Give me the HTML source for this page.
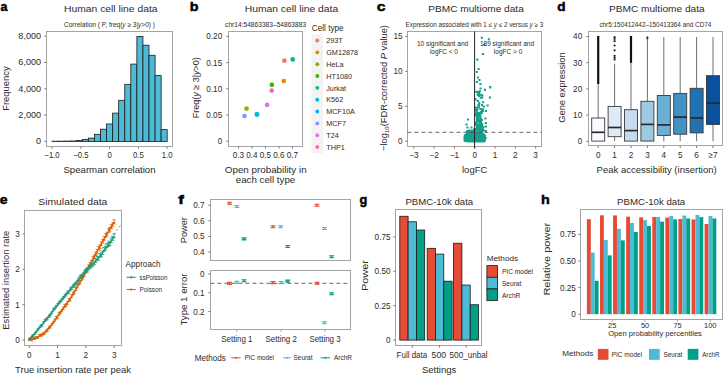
<!DOCTYPE html>
<html><head><meta charset="utf-8"><style>
html,body{margin:0;padding:0;background:#fff;width:723px;height:375px;overflow:hidden}
svg{display:block}
text{font-family:"Liberation Sans",sans-serif}
</style></head><body>
<svg width="723" height="375" viewBox="0 0 723 375">
<rect width="723" height="375" fill="#fff"/>
<text x="0.4" y="10.8" font-size="12.2" font-weight="bold" fill="#000" stroke="#000" stroke-width="0.45" textLength="7.0" lengthAdjust="spacingAndGlyphs">a</text>
<text x="64" y="12.2" font-size="9.5" textLength="93.5" lengthAdjust="spacingAndGlyphs" fill="#2b2b2b">Human cell line data</text>
<text x="64" y="26.8" font-size="6.5" textLength="91" lengthAdjust="spacingAndGlyphs" fill="#2b2b2b">Correlation ( P, freq(<tspan font-style="italic">y</tspan> ≥ 3|<tspan font-style="italic">y</tspan>&gt;0) )</text>
<rect x="52.00" y="141.20" width="6.06" height="0.30" fill="#4DBBD5" stroke="#1a1a1a" stroke-width="0.8"/>
<rect x="58.06" y="141.20" width="6.06" height="0.30" fill="#4DBBD5" stroke="#1a1a1a" stroke-width="0.8"/>
<rect x="64.13" y="141.10" width="6.06" height="0.30" fill="#4DBBD5" stroke="#1a1a1a" stroke-width="0.8"/>
<rect x="70.19" y="141.00" width="6.06" height="0.40" fill="#4DBBD5" stroke="#1a1a1a" stroke-width="0.8"/>
<rect x="76.25" y="140.40" width="6.06" height="1.00" fill="#4DBBD5" stroke="#1a1a1a" stroke-width="0.8"/>
<rect x="82.31" y="139.40" width="6.06" height="2.00" fill="#4DBBD5" stroke="#1a1a1a" stroke-width="0.8"/>
<rect x="88.38" y="138.10" width="6.06" height="3.30" fill="#4DBBD5" stroke="#1a1a1a" stroke-width="0.8"/>
<rect x="94.44" y="134.30" width="6.06" height="7.10" fill="#4DBBD5" stroke="#1a1a1a" stroke-width="0.8"/>
<rect x="100.50" y="129.20" width="6.06" height="12.20" fill="#4DBBD5" stroke="#1a1a1a" stroke-width="0.8"/>
<rect x="106.57" y="124.00" width="6.06" height="17.40" fill="#4DBBD5" stroke="#1a1a1a" stroke-width="0.8"/>
<rect x="112.63" y="113.10" width="6.06" height="28.30" fill="#4DBBD5" stroke="#1a1a1a" stroke-width="0.8"/>
<rect x="118.69" y="100.30" width="6.06" height="41.10" fill="#4DBBD5" stroke="#1a1a1a" stroke-width="0.8"/>
<rect x="124.76" y="84.30" width="6.06" height="57.10" fill="#4DBBD5" stroke="#1a1a1a" stroke-width="0.8"/>
<rect x="130.82" y="64.10" width="6.06" height="77.30" fill="#4DBBD5" stroke="#1a1a1a" stroke-width="0.8"/>
<rect x="136.88" y="36.40" width="6.06" height="105.00" fill="#4DBBD5" stroke="#1a1a1a" stroke-width="0.8"/>
<rect x="142.94" y="45.20" width="6.06" height="96.20" fill="#4DBBD5" stroke="#1a1a1a" stroke-width="0.8"/>
<rect x="149.01" y="55.30" width="6.06" height="86.10" fill="#4DBBD5" stroke="#1a1a1a" stroke-width="0.8"/>
<rect x="155.07" y="75.60" width="6.06" height="65.80" fill="#4DBBD5" stroke="#1a1a1a" stroke-width="0.8"/>
<rect x="161.13" y="129.60" width="6.06" height="11.80" fill="#4DBBD5" stroke="#1a1a1a" stroke-width="0.8"/>
<rect x="46.50" y="31.50" width="126.00" height="115.00" fill="none" stroke="#a5a5a5" stroke-width="1"/>
<line x1="44.30" y1="141.40" x2="46.50" y2="141.40" stroke="#777" stroke-width="1"/>
<text x="41.2" y="144.324" font-size="8.6" text-anchor="end" textLength="5.07" lengthAdjust="spacingAndGlyphs" fill="#2b2b2b">0</text>
<line x1="44.30" y1="115.10" x2="46.50" y2="115.10" stroke="#777" stroke-width="1"/>
<text x="41.2" y="118.024" font-size="8.6" text-anchor="end" textLength="22.81" lengthAdjust="spacingAndGlyphs" fill="#2b2b2b">2,000</text>
<line x1="44.30" y1="88.80" x2="46.50" y2="88.80" stroke="#777" stroke-width="1"/>
<text x="41.2" y="91.724" font-size="8.6" text-anchor="end" textLength="22.81" lengthAdjust="spacingAndGlyphs" fill="#2b2b2b">4,000</text>
<line x1="44.30" y1="62.50" x2="46.50" y2="62.50" stroke="#777" stroke-width="1"/>
<text x="41.2" y="65.424" font-size="8.6" text-anchor="end" textLength="22.81" lengthAdjust="spacingAndGlyphs" fill="#2b2b2b">6,000</text>
<line x1="44.30" y1="36.20" x2="46.50" y2="36.20" stroke="#777" stroke-width="1"/>
<text x="41.2" y="39.124" font-size="8.6" text-anchor="end" textLength="22.81" lengthAdjust="spacingAndGlyphs" fill="#2b2b2b">8,000</text>
<line x1="52.00" y1="146.50" x2="52.00" y2="148.70" stroke="#777" stroke-width="1"/>
<text x="52" y="158.1" font-size="8.6" text-anchor="middle" textLength="15.28" lengthAdjust="spacingAndGlyphs" fill="#2b2b2b">−1.0</text>
<line x1="80.80" y1="146.50" x2="80.80" y2="148.70" stroke="#777" stroke-width="1"/>
<text x="80.8" y="158.1" font-size="8.6" text-anchor="middle" textLength="15.28" lengthAdjust="spacingAndGlyphs" fill="#2b2b2b">−0.5</text>
<line x1="109.60" y1="146.50" x2="109.60" y2="148.70" stroke="#777" stroke-width="1"/>
<text x="109.6" y="158.1" font-size="8.6" text-anchor="middle" textLength="4.3" lengthAdjust="spacingAndGlyphs" fill="#2b2b2b">0</text>
<line x1="138.40" y1="146.50" x2="138.40" y2="148.70" stroke="#777" stroke-width="1"/>
<text x="138.4" y="158.1" font-size="8.6" text-anchor="middle" textLength="10.76" lengthAdjust="spacingAndGlyphs" fill="#2b2b2b">0.5</text>
<line x1="167.20" y1="146.50" x2="167.20" y2="148.70" stroke="#777" stroke-width="1"/>
<text x="167.2" y="158.1" font-size="8.6" text-anchor="middle" textLength="10.76" lengthAdjust="spacingAndGlyphs" fill="#2b2b2b">1.0</text>
<text x="63.4" y="172.9" font-size="9.6" textLength="92.2" lengthAdjust="spacingAndGlyphs" fill="#2b2b2b">Spearman correlation</text>
<text x="0" y="0" font-size="9.5" text-anchor="middle" textLength="44.5" lengthAdjust="spacingAndGlyphs" fill="#2b2b2b" transform="translate(8.82,88.60) rotate(-90)">Frequency</text>
<text x="189.7" y="10.6" font-size="12.2" font-weight="bold" fill="#000" stroke="#000" stroke-width="0.45" textLength="8.8" lengthAdjust="spacingAndGlyphs">b</text>
<text x="244.7" y="12.2" font-size="9.5" textLength="93.5" lengthAdjust="spacingAndGlyphs" fill="#2b2b2b">Human cell line data</text>
<text x="225.1" y="26.8" font-size="6.5" textLength="81" lengthAdjust="spacingAndGlyphs" fill="#2b2b2b">chr14:54863383–54863883</text>
<rect x="228.50" y="31.50" width="74.00" height="115.00" fill="none" stroke="#a5a5a5" stroke-width="1"/>
<line x1="226.30" y1="141.20" x2="228.50" y2="141.20" stroke="#777" stroke-width="1"/>
<text x="222.2" y="144.124" font-size="8.6" text-anchor="end" textLength="4.54" lengthAdjust="spacingAndGlyphs" fill="#2b2b2b">0</text>
<line x1="226.30" y1="115.00" x2="228.50" y2="115.00" stroke="#777" stroke-width="1"/>
<text x="222.2" y="117.924" font-size="8.6" text-anchor="end" textLength="15.9" lengthAdjust="spacingAndGlyphs" fill="#2b2b2b">0.05</text>
<line x1="226.30" y1="88.80" x2="228.50" y2="88.80" stroke="#777" stroke-width="1"/>
<text x="222.2" y="91.724" font-size="8.6" text-anchor="end" textLength="15.9" lengthAdjust="spacingAndGlyphs" fill="#2b2b2b">0.10</text>
<line x1="226.30" y1="62.60" x2="228.50" y2="62.60" stroke="#777" stroke-width="1"/>
<text x="222.2" y="65.524" font-size="8.6" text-anchor="end" textLength="15.9" lengthAdjust="spacingAndGlyphs" fill="#2b2b2b">0.15</text>
<line x1="226.30" y1="36.40" x2="228.50" y2="36.40" stroke="#777" stroke-width="1"/>
<text x="222.2" y="39.324" font-size="8.6" text-anchor="end" textLength="15.9" lengthAdjust="spacingAndGlyphs" fill="#2b2b2b">0.20</text>
<line x1="238.50" y1="146.30" x2="238.50" y2="148.50" stroke="#777" stroke-width="1"/>
<text x="238.5" y="158.1" font-size="8.6" text-anchor="middle" textLength="11.36" lengthAdjust="spacingAndGlyphs" fill="#2b2b2b">0.3</text>
<line x1="252.00" y1="146.30" x2="252.00" y2="148.50" stroke="#777" stroke-width="1"/>
<text x="252" y="158.1" font-size="8.6" text-anchor="middle" textLength="11.36" lengthAdjust="spacingAndGlyphs" fill="#2b2b2b">0.4</text>
<line x1="265.50" y1="146.30" x2="265.50" y2="148.50" stroke="#777" stroke-width="1"/>
<text x="265.5" y="158.1" font-size="8.6" text-anchor="middle" textLength="11.36" lengthAdjust="spacingAndGlyphs" fill="#2b2b2b">0.5</text>
<line x1="279.00" y1="146.30" x2="279.00" y2="148.50" stroke="#777" stroke-width="1"/>
<text x="279" y="158.1" font-size="8.6" text-anchor="middle" textLength="11.36" lengthAdjust="spacingAndGlyphs" fill="#2b2b2b">0.6</text>
<line x1="292.50" y1="146.30" x2="292.50" y2="148.50" stroke="#777" stroke-width="1"/>
<text x="292.5" y="158.1" font-size="8.6" text-anchor="middle" textLength="11.36" lengthAdjust="spacingAndGlyphs" fill="#2b2b2b">0.7</text>
<text x="224.8" y="173.2" font-size="9.6" textLength="81.8" lengthAdjust="spacingAndGlyphs" fill="#2b2b2b">Open probability in</text>
<text x="235.8" y="183.2" font-size="9.6" textLength="59.4" lengthAdjust="spacingAndGlyphs" fill="#2b2b2b">each cell type</text>
<text x="0" y="0" font-size="9.0" text-anchor="middle" textLength="61" lengthAdjust="spacingAndGlyphs" fill="#2b2b2b" transform="translate(198.64,87.70) rotate(-90)">Freq(<tspan font-style="italic">y</tspan> ≥ 3|<tspan font-style="italic">y</tspan>&gt;0)</text>
<circle cx="284.3" cy="60.7" r="2.35" fill="#F8766D"/>
<circle cx="292.7" cy="59.4" r="2.35" fill="#00BF7D"/>
<circle cx="283.8" cy="81" r="2.35" fill="#D89000"/>
<circle cx="271.9" cy="84.8" r="2.35" fill="#39B600"/>
<circle cx="271.7" cy="90.6" r="2.35" fill="#FF62BC"/>
<circle cx="267.1" cy="104.8" r="2.35" fill="#E76BF3"/>
<circle cx="246.6" cy="108.6" r="2.35" fill="#A3A500"/>
<circle cx="257" cy="114.4" r="2.35" fill="#00B0F6"/>
<circle cx="244.5" cy="116" r="2.35" fill="#9590FF"/>
<circle cx="257" cy="114.4" r="2.35" fill="#00BFC4"/>
<text x="311.7" y="30.8" font-size="8.2" textLength="32" lengthAdjust="spacingAndGlyphs" fill="#2b2b2b">Cell type</text>
<rect x="311.50" y="34.30" width="11.50" height="118.90" fill="#f3f3f3"/>
<circle cx="317.3" cy="40.50" r="1.95" fill="#F8766D"/>
<text x="326.2" y="43.2" font-size="7.7" textLength="16.6" lengthAdjust="spacingAndGlyphs" fill="#2b2b2b">293T</text>
<circle cx="317.3" cy="52.34" r="1.95" fill="#D89000"/>
<text x="326.2" y="55.040000000000006" font-size="7.7" textLength="31.99" lengthAdjust="spacingAndGlyphs" fill="#2b2b2b">GM12878</text>
<circle cx="317.3" cy="64.18" r="1.95" fill="#A3A500"/>
<text x="326.2" y="66.88000000000001" font-size="7.7" textLength="17.41" lengthAdjust="spacingAndGlyphs" fill="#2b2b2b">HeLa</text>
<circle cx="317.3" cy="76.02" r="1.95" fill="#39B600"/>
<text x="326.2" y="78.72" font-size="7.7" textLength="25.91" lengthAdjust="spacingAndGlyphs" fill="#2b2b2b">HT1080</text>
<circle cx="317.3" cy="87.86" r="1.95" fill="#00BF7D"/>
<text x="326.2" y="90.56" font-size="7.7" textLength="19.83" lengthAdjust="spacingAndGlyphs" fill="#2b2b2b">Jurkat</text>
<circle cx="317.3" cy="99.70" r="1.95" fill="#00BFC4"/>
<text x="326.2" y="102.4" font-size="7.7" textLength="17.01" lengthAdjust="spacingAndGlyphs" fill="#2b2b2b">K562</text>
<circle cx="317.3" cy="111.54" r="1.95" fill="#00B0F6"/>
<text x="326.2" y="114.24" font-size="7.7" textLength="28.74" lengthAdjust="spacingAndGlyphs" fill="#2b2b2b">MCF10A</text>
<circle cx="317.3" cy="123.38" r="1.95" fill="#9590FF"/>
<text x="326.2" y="126.08" font-size="7.7" textLength="19.83" lengthAdjust="spacingAndGlyphs" fill="#2b2b2b">MCF7</text>
<circle cx="317.3" cy="135.22" r="1.95" fill="#E76BF3"/>
<text x="326.2" y="137.92" font-size="7.7" textLength="12.55" lengthAdjust="spacingAndGlyphs" fill="#2b2b2b">T24</text>
<circle cx="317.3" cy="147.06" r="1.95" fill="#FF62BC"/>
<text x="326.2" y="149.76" font-size="7.7" textLength="18.62" lengthAdjust="spacingAndGlyphs" fill="#2b2b2b">THP1</text>
<text x="376.8" y="10.9" font-size="12.2" font-weight="bold" fill="#000" stroke="#000" stroke-width="0.45" textLength="8.8" lengthAdjust="spacingAndGlyphs">c</text>
<text x="428.3" y="12.2" font-size="9.5" textLength="95.5" lengthAdjust="spacingAndGlyphs" fill="#2b2b2b">PBMC multiome data</text>
<text x="405.6" y="26.8" font-size="6.3" textLength="137.6" lengthAdjust="spacingAndGlyphs" fill="#2b2b2b">Expression associated with 1 ≤ <tspan font-style="italic">y</tspan> ≤ 2 versus <tspan font-style="italic">y</tspan> ≥ 3</text>
<rect x="407.50" y="31.50" width="134.00" height="115.00" fill="none" stroke="#a5a5a5" stroke-width="1"/>
<line x1="405.20" y1="141.20" x2="407.40" y2="141.20" stroke="#777" stroke-width="1"/>
<text x="402.5" y="144.124" font-size="8.6" text-anchor="end" textLength="4.54" lengthAdjust="spacingAndGlyphs" fill="#2b2b2b">0</text>
<line x1="405.20" y1="106.20" x2="407.40" y2="106.20" stroke="#777" stroke-width="1"/>
<text x="402.5" y="109.12400000000001" font-size="8.6" text-anchor="end" textLength="4.54" lengthAdjust="spacingAndGlyphs" fill="#2b2b2b">5</text>
<line x1="405.20" y1="71.30" x2="407.40" y2="71.30" stroke="#777" stroke-width="1"/>
<text x="402.5" y="74.224" font-size="8.6" text-anchor="end" textLength="9.09" lengthAdjust="spacingAndGlyphs" fill="#2b2b2b">10</text>
<line x1="405.20" y1="36.30" x2="407.40" y2="36.30" stroke="#777" stroke-width="1"/>
<text x="402.5" y="39.224" font-size="8.6" text-anchor="end" textLength="9.09" lengthAdjust="spacingAndGlyphs" fill="#2b2b2b">15</text>
<line x1="413.80" y1="146.30" x2="413.80" y2="148.50" stroke="#777" stroke-width="1"/>
<text x="413.8" y="158.1" font-size="8.6" text-anchor="middle" textLength="9.32" lengthAdjust="spacingAndGlyphs" fill="#2b2b2b">−3</text>
<line x1="434.10" y1="146.30" x2="434.10" y2="148.50" stroke="#777" stroke-width="1"/>
<text x="434.1" y="158.1" font-size="8.6" text-anchor="middle" textLength="9.32" lengthAdjust="spacingAndGlyphs" fill="#2b2b2b">−2</text>
<line x1="454.40" y1="146.30" x2="454.40" y2="148.50" stroke="#777" stroke-width="1"/>
<text x="454.40000000000003" y="158.1" font-size="8.6" text-anchor="middle" textLength="9.32" lengthAdjust="spacingAndGlyphs" fill="#2b2b2b">−1</text>
<line x1="474.70" y1="146.30" x2="474.70" y2="148.50" stroke="#777" stroke-width="1"/>
<text x="474.70000000000005" y="158.1" font-size="8.6" text-anchor="middle" textLength="4.54" lengthAdjust="spacingAndGlyphs" fill="#2b2b2b">0</text>
<line x1="495.00" y1="146.30" x2="495.00" y2="148.50" stroke="#777" stroke-width="1"/>
<text x="495.0" y="158.1" font-size="8.6" text-anchor="middle" textLength="4.54" lengthAdjust="spacingAndGlyphs" fill="#2b2b2b">1</text>
<line x1="515.30" y1="146.30" x2="515.30" y2="148.50" stroke="#777" stroke-width="1"/>
<text x="515.3" y="158.1" font-size="8.6" text-anchor="middle" textLength="4.54" lengthAdjust="spacingAndGlyphs" fill="#2b2b2b">2</text>
<line x1="535.60" y1="146.30" x2="535.60" y2="148.50" stroke="#777" stroke-width="1"/>
<text x="535.6" y="158.1" font-size="8.6" text-anchor="middle" textLength="4.54" lengthAdjust="spacingAndGlyphs" fill="#2b2b2b">3</text>
<text x="462.0" y="173.0" font-size="9.6" textLength="25.4" lengthAdjust="spacingAndGlyphs" fill="#2b2b2b">logFC</text>
<text x="0" y="0" font-size="9.3" text-anchor="middle" textLength="126" lengthAdjust="spacingAndGlyphs" fill="#2b2b2b" transform="translate(386.95,88.00) rotate(-90)">−log<tspan font-size="6" dy="2">10</tspan><tspan dy="-2">(FDR-corrected </tspan><tspan font-style="italic">P</tspan> value)</text>
<path fill="#14A08A" d="M470.1 133.9h2.1v2.1h-2.1zM476.9 133.3h2.1v2.1h-2.1zM474.5 135.6h2.1v2.1h-2.1zM464.6 136.9h2.1v2.1h-2.1zM464.2 136.5h2.1v2.1h-2.1zM464.9 134.0h2.1v2.1h-2.1zM472.2 139.1h2.1v2.1h-2.1zM466.0 134.6h2.1v2.1h-2.1zM476.4 140.0h2.1v2.1h-2.1zM475.3 135.8h2.1v2.1h-2.1zM483.6 134.4h2.1v2.1h-2.1zM481.1 135.1h2.1v2.1h-2.1zM466.4 133.8h2.1v2.1h-2.1zM469.8 139.0h2.1v2.1h-2.1zM467.2 137.2h2.1v2.1h-2.1zM476.6 135.6h2.1v2.1h-2.1zM474.7 133.2h2.1v2.1h-2.1zM464.7 134.9h2.1v2.1h-2.1zM477.5 136.0h2.1v2.1h-2.1zM469.9 137.3h2.1v2.1h-2.1zM472.8 135.1h2.1v2.1h-2.1zM479.8 138.1h2.1v2.1h-2.1zM468.5 137.2h2.1v2.1h-2.1zM474.3 139.5h2.1v2.1h-2.1zM478.5 135.0h2.1v2.1h-2.1zM483.6 134.9h2.1v2.1h-2.1zM472.1 138.6h2.1v2.1h-2.1zM466.6 136.6h2.1v2.1h-2.1zM464.3 138.0h2.1v2.1h-2.1zM479.2 137.2h2.1v2.1h-2.1zM481.5 135.3h2.1v2.1h-2.1zM477.8 137.3h2.1v2.1h-2.1zM475.4 136.3h2.1v2.1h-2.1zM480.8 140.0h2.1v2.1h-2.1zM473.2 137.9h2.1v2.1h-2.1zM464.7 138.2h2.1v2.1h-2.1zM476.8 140.4h2.1v2.1h-2.1zM480.4 135.0h2.1v2.1h-2.1zM471.4 137.9h2.1v2.1h-2.1zM463.9 136.8h2.1v2.1h-2.1zM466.9 133.7h2.1v2.1h-2.1zM464.7 138.6h2.1v2.1h-2.1zM466.1 134.8h2.1v2.1h-2.1zM471.5 139.5h2.1v2.1h-2.1zM465.1 136.4h2.1v2.1h-2.1zM474.8 139.6h2.1v2.1h-2.1zM480.3 139.4h2.1v2.1h-2.1zM469.2 135.9h2.1v2.1h-2.1zM470.8 139.6h2.1v2.1h-2.1zM483.2 134.7h2.1v2.1h-2.1zM467.1 134.6h2.1v2.1h-2.1zM468.3 136.5h2.1v2.1h-2.1zM475.6 134.8h2.1v2.1h-2.1zM463.5 136.7h2.1v2.1h-2.1zM471.1 137.1h2.1v2.1h-2.1zM483.1 138.1h2.1v2.1h-2.1zM474.1 137.5h2.1v2.1h-2.1zM477.4 133.2h2.1v2.1h-2.1zM482.0 138.8h2.1v2.1h-2.1zM481.5 138.9h2.1v2.1h-2.1zM471.5 135.8h2.1v2.1h-2.1zM465.6 137.7h2.1v2.1h-2.1zM464.7 133.9h2.1v2.1h-2.1zM467.8 134.0h2.1v2.1h-2.1zM470.5 133.2h2.1v2.1h-2.1zM463.5 135.5h2.1v2.1h-2.1zM465.5 135.7h2.1v2.1h-2.1zM464.0 139.2h2.1v2.1h-2.1zM476.1 133.9h2.1v2.1h-2.1zM468.6 135.4h2.1v2.1h-2.1zM471.0 133.7h2.1v2.1h-2.1zM480.9 140.4h2.1v2.1h-2.1zM473.0 136.5h2.1v2.1h-2.1zM465.2 133.9h2.1v2.1h-2.1zM470.5 134.8h2.1v2.1h-2.1zM480.5 134.0h2.1v2.1h-2.1zM463.9 139.6h2.1v2.1h-2.1zM474.3 133.9h2.1v2.1h-2.1zM474.6 133.0h2.1v2.1h-2.1zM474.3 140.3h2.1v2.1h-2.1zM481.2 138.1h2.1v2.1h-2.1zM468.8 135.6h2.1v2.1h-2.1zM466.9 138.7h2.1v2.1h-2.1zM474.4 138.7h2.1v2.1h-2.1zM470.2 134.5h2.1v2.1h-2.1zM480.2 140.3h2.1v2.1h-2.1zM481.0 139.0h2.1v2.1h-2.1zM480.3 138.5h2.1v2.1h-2.1zM468.1 136.7h2.1v2.1h-2.1zM470.8 133.0h2.1v2.1h-2.1zM464.0 135.7h2.1v2.1h-2.1zM468.8 138.1h2.1v2.1h-2.1zM483.2 136.6h2.1v2.1h-2.1zM482.8 140.1h2.1v2.1h-2.1zM483.1 136.0h2.1v2.1h-2.1zM468.0 134.5h2.1v2.1h-2.1zM467.5 134.4h2.1v2.1h-2.1zM476.3 139.7h2.1v2.1h-2.1zM480.8 136.5h2.1v2.1h-2.1zM476.9 138.9h2.1v2.1h-2.1zM465.2 137.9h2.1v2.1h-2.1zM482.2 138.8h2.1v2.1h-2.1zM478.9 136.4h2.1v2.1h-2.1zM467.1 138.8h2.1v2.1h-2.1zM470.3 138.9h2.1v2.1h-2.1zM483.5 136.4h2.1v2.1h-2.1zM471.7 140.0h2.1v2.1h-2.1zM478.4 134.1h2.1v2.1h-2.1zM466.1 134.1h2.1v2.1h-2.1zM482.1 138.9h2.1v2.1h-2.1zM466.5 139.1h2.1v2.1h-2.1zM483.6 137.9h2.1v2.1h-2.1zM470.7 137.0h2.1v2.1h-2.1zM466.1 133.0h2.1v2.1h-2.1zM483.5 137.9h2.1v2.1h-2.1zM474.3 139.9h2.1v2.1h-2.1zM472.4 139.5h2.1v2.1h-2.1zM480.5 134.4h2.1v2.1h-2.1zM468.6 135.0h2.1v2.1h-2.1zM468.4 137.3h2.1v2.1h-2.1zM468.8 136.0h2.1v2.1h-2.1zM466.2 139.7h2.1v2.1h-2.1zM470.7 136.3h2.1v2.1h-2.1zM475.5 139.7h2.1v2.1h-2.1zM472.1 139.8h2.1v2.1h-2.1zM473.8 136.8h2.1v2.1h-2.1zM474.2 132.9h2.1v2.1h-2.1zM472.5 134.2h2.1v2.1h-2.1zM463.5 138.6h2.1v2.1h-2.1zM467.0 136.4h2.1v2.1h-2.1zM478.4 137.0h2.1v2.1h-2.1zM470.2 136.7h2.1v2.1h-2.1zM474.9 138.8h2.1v2.1h-2.1zM465.6 137.1h2.1v2.1h-2.1zM468.6 134.9h2.1v2.1h-2.1zM479.4 136.7h2.1v2.1h-2.1zM475.0 138.6h2.1v2.1h-2.1zM482.2 136.3h2.1v2.1h-2.1zM476.1 136.6h2.1v2.1h-2.1zM474.0 138.1h2.1v2.1h-2.1zM472.8 136.9h2.1v2.1h-2.1zM473.3 140.0h2.1v2.1h-2.1zM477.9 139.5h2.1v2.1h-2.1zM482.9 135.2h2.1v2.1h-2.1zM475.0 140.0h2.1v2.1h-2.1zM480.8 133.9h2.1v2.1h-2.1zM466.0 136.2h2.1v2.1h-2.1zM464.9 135.0h2.1v2.1h-2.1zM465.0 138.0h2.1v2.1h-2.1zM479.6 139.7h2.1v2.1h-2.1zM466.6 138.3h2.1v2.1h-2.1zM477.1 133.9h2.1v2.1h-2.1zM481.6 140.1h2.1v2.1h-2.1zM468.0 140.1h2.1v2.1h-2.1zM471.7 136.5h2.1v2.1h-2.1zM483.8 138.8h2.1v2.1h-2.1zM466.8 136.1h2.1v2.1h-2.1zM474.1 135.4h2.1v2.1h-2.1zM467.5 135.2h2.1v2.1h-2.1zM478.3 132.9h2.1v2.1h-2.1zM474.9 136.1h2.1v2.1h-2.1zM463.8 136.1h2.1v2.1h-2.1zM476.3 136.7h2.1v2.1h-2.1zM464.8 140.1h2.1v2.1h-2.1zM479.7 140.2h2.1v2.1h-2.1zM465.6 135.0h2.1v2.1h-2.1zM464.3 138.7h2.1v2.1h-2.1zM469.0 133.8h2.1v2.1h-2.1zM472.1 139.8h2.1v2.1h-2.1zM480.3 134.8h2.1v2.1h-2.1zM466.5 139.8h2.1v2.1h-2.1zM475.2 138.1h2.1v2.1h-2.1zM465.3 133.6h2.1v2.1h-2.1zM477.6 136.0h2.1v2.1h-2.1zM464.9 139.8h2.1v2.1h-2.1zM476.5 138.9h2.1v2.1h-2.1zM465.2 139.3h2.1v2.1h-2.1zM464.8 139.3h2.1v2.1h-2.1zM472.8 135.4h2.1v2.1h-2.1zM474.8 139.9h2.1v2.1h-2.1zM469.0 133.7h2.1v2.1h-2.1zM474.3 134.6h2.1v2.1h-2.1zM465.7 134.2h2.1v2.1h-2.1zM464.5 134.9h2.1v2.1h-2.1zM469.9 135.1h2.1v2.1h-2.1zM479.1 135.0h2.1v2.1h-2.1zM473.8 134.1h2.1v2.1h-2.1zM470.6 132.9h2.1v2.1h-2.1zM468.6 132.9h2.1v2.1h-2.1zM478.6 137.0h2.1v2.1h-2.1zM467.4 136.4h2.1v2.1h-2.1zM482.7 134.1h2.1v2.1h-2.1zM480.3 136.1h2.1v2.1h-2.1zM473.6 139.2h2.1v2.1h-2.1zM471.5 136.7h2.1v2.1h-2.1zM477.6 140.3h2.1v2.1h-2.1zM470.5 139.2h2.1v2.1h-2.1zM478.0 137.6h2.1v2.1h-2.1zM471.8 135.4h2.1v2.1h-2.1zM464.6 134.4h2.1v2.1h-2.1zM464.9 138.5h2.1v2.1h-2.1zM468.7 134.0h2.1v2.1h-2.1zM465.2 139.2h2.1v2.1h-2.1zM481.4 137.9h2.1v2.1h-2.1zM469.3 134.6h2.1v2.1h-2.1zM469.5 136.3h2.1v2.1h-2.1zM466.7 136.2h2.1v2.1h-2.1zM468.9 140.2h2.1v2.1h-2.1zM483.5 137.3h2.1v2.1h-2.1zM468.5 140.2h2.1v2.1h-2.1zM469.8 135.5h2.1v2.1h-2.1zM463.5 136.6h2.1v2.1h-2.1zM473.2 136.6h2.1v2.1h-2.1zM467.6 136.7h2.1v2.1h-2.1zM463.6 135.9h2.1v2.1h-2.1zM465.3 136.0h2.1v2.1h-2.1zM464.3 133.9h2.1v2.1h-2.1zM469.7 134.5h2.1v2.1h-2.1zM475.5 136.8h2.1v2.1h-2.1zM478.9 137.8h2.1v2.1h-2.1zM478.2 139.5h2.1v2.1h-2.1zM471.5 135.3h2.1v2.1h-2.1zM483.7 135.1h2.1v2.1h-2.1zM478.4 137.7h2.1v2.1h-2.1zM464.4 139.0h2.1v2.1h-2.1zM481.8 137.6h2.1v2.1h-2.1zM478.6 139.0h2.1v2.1h-2.1zM466.3 136.8h2.1v2.1h-2.1zM473.8 139.2h2.1v2.1h-2.1zM480.0 139.1h2.1v2.1h-2.1zM475.5 139.6h2.1v2.1h-2.1zM477.5 138.1h2.1v2.1h-2.1zM468.2 133.0h2.1v2.1h-2.1zM466.2 135.6h2.1v2.1h-2.1zM465.6 139.2h2.1v2.1h-2.1zM475.0 137.6h2.1v2.1h-2.1zM476.4 138.0h2.1v2.1h-2.1zM473.5 132.8h2.1v2.1h-2.1zM479.9 138.5h2.1v2.1h-2.1zM473.8 136.9h2.1v2.1h-2.1zM477.0 133.3h2.1v2.1h-2.1zM478.6 134.7h2.1v2.1h-2.1zM465.0 135.2h2.1v2.1h-2.1zM478.5 134.3h2.1v2.1h-2.1zM478.7 140.3h2.1v2.1h-2.1zM473.6 135.7h2.1v2.1h-2.1zM473.3 138.0h2.1v2.1h-2.1zM479.2 137.5h2.1v2.1h-2.1zM476.7 133.3h2.1v2.1h-2.1zM466.5 134.8h2.1v2.1h-2.1zM478.8 135.1h2.1v2.1h-2.1zM475.1 132.8h2.1v2.1h-2.1zM464.7 135.3h2.1v2.1h-2.1zM477.3 138.1h2.1v2.1h-2.1zM477.4 135.0h2.1v2.1h-2.1zM474.1 136.3h2.1v2.1h-2.1zM473.1 133.7h2.1v2.1h-2.1zM481.9 134.5h2.1v2.1h-2.1zM483.6 139.5h2.1v2.1h-2.1zM463.8 136.8h2.1v2.1h-2.1zM480.3 140.2h2.1v2.1h-2.1zM472.7 134.8h2.1v2.1h-2.1zM467.8 140.0h2.1v2.1h-2.1zM467.8 137.2h2.1v2.1h-2.1zM466.4 136.8h2.1v2.1h-2.1zM483.1 134.5h2.1v2.1h-2.1zM480.3 136.7h2.1v2.1h-2.1zM481.7 138.2h2.1v2.1h-2.1zM468.2 139.7h2.1v2.1h-2.1zM473.5 132.9h2.1v2.1h-2.1zM463.5 137.1h2.1v2.1h-2.1zM472.7 135.1h2.1v2.1h-2.1zM466.3 135.5h2.1v2.1h-2.1zM470.0 139.2h2.1v2.1h-2.1zM463.5 138.4h2.1v2.1h-2.1zM480.7 133.8h2.1v2.1h-2.1zM482.5 138.3h2.1v2.1h-2.1zM482.0 135.2h2.1v2.1h-2.1zM471.1 135.8h2.1v2.1h-2.1zM484.0 137.6h2.1v2.1h-2.1zM470.9 136.0h2.1v2.1h-2.1zM469.1 133.1h2.1v2.1h-2.1zM465.5 139.2h2.1v2.1h-2.1zM469.3 140.0h2.1v2.1h-2.1zM468.6 134.8h2.1v2.1h-2.1zM474.0 134.2h2.1v2.1h-2.1zM471.1 140.1h2.1v2.1h-2.1zM481.7 139.0h2.1v2.1h-2.1zM476.4 139.8h2.1v2.1h-2.1zM482.8 137.2h2.1v2.1h-2.1zM478.3 133.1h2.1v2.1h-2.1zM478.5 136.2h2.1v2.1h-2.1zM479.0 137.7h2.1v2.1h-2.1zM469.3 133.1h2.1v2.1h-2.1zM482.5 134.2h2.1v2.1h-2.1zM473.2 135.4h2.1v2.1h-2.1zM469.6 138.4h2.1v2.1h-2.1zM483.6 135.6h2.1v2.1h-2.1zM477.0 135.1h2.1v2.1h-2.1zM474.9 135.8h2.1v2.1h-2.1zM466.9 134.1h2.1v2.1h-2.1zM467.7 139.7h2.1v2.1h-2.1zM473.7 134.4h2.1v2.1h-2.1zM482.1 140.3h2.1v2.1h-2.1zM472.7 133.8h2.1v2.1h-2.1zM467.4 133.5h2.1v2.1h-2.1zM470.5 133.5h2.1v2.1h-2.1zM468.4 134.7h2.1v2.1h-2.1zM475.2 139.6h2.1v2.1h-2.1zM478.9 135.9h2.1v2.1h-2.1zM472.0 136.8h2.1v2.1h-2.1zM471.2 135.4h2.1v2.1h-2.1zM464.7 135.3h2.1v2.1h-2.1zM483.4 134.7h2.1v2.1h-2.1zM473.8 137.6h2.1v2.1h-2.1zM481.2 134.5h2.1v2.1h-2.1zM469.0 134.7h2.1v2.1h-2.1zM471.7 136.2h2.1v2.1h-2.1zM483.1 139.1h2.1v2.1h-2.1zM481.4 133.1h2.1v2.1h-2.1zM464.1 138.2h2.1v2.1h-2.1zM481.9 136.5h2.1v2.1h-2.1zM475.5 132.8h2.1v2.1h-2.1zM471.5 139.9h2.1v2.1h-2.1zM480.5 139.3h2.1v2.1h-2.1zM483.5 135.5h2.1v2.1h-2.1zM465.7 134.2h2.1v2.1h-2.1zM474.2 138.0h2.1v2.1h-2.1zM482.8 138.3h2.1v2.1h-2.1zM476.8 138.6h2.1v2.1h-2.1zM472.9 137.0h2.1v2.1h-2.1zM464.3 138.7h2.1v2.1h-2.1zM468.2 139.8h2.1v2.1h-2.1zM476.7 135.1h2.1v2.1h-2.1zM466.1 134.8h2.1v2.1h-2.1zM476.6 138.1h2.1v2.1h-2.1zM465.8 133.5h2.1v2.1h-2.1zM474.3 137.2h2.1v2.1h-2.1zM471.4 134.5h2.1v2.1h-2.1zM475.8 132.8h2.1v2.1h-2.1zM469.7 136.3h2.1v2.1h-2.1zM483.2 137.8h2.1v2.1h-2.1zM481.7 136.5h2.1v2.1h-2.1zM468.3 134.7h2.1v2.1h-2.1zM483.2 138.2h2.1v2.1h-2.1zM469.8 132.9h2.1v2.1h-2.1zM473.7 137.9h2.1v2.1h-2.1zM472.1 134.7h2.1v2.1h-2.1zM477.2 139.9h2.1v2.1h-2.1zM468.1 133.0h2.1v2.1h-2.1zM470.4 136.0h2.1v2.1h-2.1zM477.5 134.3h2.1v2.1h-2.1zM479.9 138.4h2.1v2.1h-2.1zM473.9 134.3h2.1v2.1h-2.1zM483.4 135.8h2.1v2.1h-2.1zM480.3 134.6h2.1v2.1h-2.1zM468.0 138.6h2.1v2.1h-2.1zM469.5 140.1h2.1v2.1h-2.1zM473.7 134.2h2.1v2.1h-2.1zM468.1 136.0h2.1v2.1h-2.1zM477.2 140.1h2.1v2.1h-2.1zM466.5 135.8h2.1v2.1h-2.1zM467.8 140.2h2.1v2.1h-2.1zM466.4 133.3h2.1v2.1h-2.1zM464.7 136.1h2.1v2.1h-2.1zM482.0 139.5h2.1v2.1h-2.1zM478.5 140.4h2.1v2.1h-2.1zM482.6 135.6h2.1v2.1h-2.1zM467.3 140.0h2.1v2.1h-2.1zM478.8 133.0h2.1v2.1h-2.1zM477.1 135.7h2.1v2.1h-2.1zM471.2 135.3h2.1v2.1h-2.1zM466.9 132.8h2.1v2.1h-2.1zM469.2 135.5h2.1v2.1h-2.1zM483.1 134.5h2.1v2.1h-2.1zM483.3 135.1h2.1v2.1h-2.1zM470.8 139.1h2.1v2.1h-2.1zM480.4 136.1h2.1v2.1h-2.1zM464.5 136.7h2.1v2.1h-2.1zM471.1 139.8h2.1v2.1h-2.1zM467.4 135.6h2.1v2.1h-2.1zM481.9 133.3h2.1v2.1h-2.1zM471.9 139.0h2.1v2.1h-2.1zM479.2 133.1h2.1v2.1h-2.1zM464.2 134.3h2.1v2.1h-2.1zM482.4 135.1h2.1v2.1h-2.1zM478.8 139.7h2.1v2.1h-2.1zM470.4 134.8h2.1v2.1h-2.1zM483.2 137.6h2.1v2.1h-2.1zM468.9 138.3h2.1v2.1h-2.1zM470.0 134.9h2.1v2.1h-2.1zM463.5 138.4h2.1v2.1h-2.1zM482.3 137.7h2.1v2.1h-2.1zM482.9 133.7h2.1v2.1h-2.1zM468.3 136.4h2.1v2.1h-2.1zM483.2 139.8h2.1v2.1h-2.1zM471.4 134.7h2.1v2.1h-2.1zM472.3 136.5h2.1v2.1h-2.1zM482.6 134.6h2.1v2.1h-2.1zM480.0 138.4h2.1v2.1h-2.1zM480.4 138.7h2.1v2.1h-2.1zM476.0 135.3h2.1v2.1h-2.1zM470.0 135.5h2.1v2.1h-2.1zM479.6 133.4h2.1v2.1h-2.1zM467.5 138.6h2.1v2.1h-2.1zM468.5 133.3h2.1v2.1h-2.1zM464.1 137.3h2.1v2.1h-2.1zM470.2 140.3h2.1v2.1h-2.1zM481.6 140.3h2.1v2.1h-2.1zM468.9 133.4h2.1v2.1h-2.1zM465.4 136.7h2.1v2.1h-2.1zM478.1 136.2h2.1v2.1h-2.1zM468.3 136.0h2.1v2.1h-2.1zM476.2 137.9h2.1v2.1h-2.1zM478.9 139.3h2.1v2.1h-2.1zM477.1 133.7h2.1v2.1h-2.1zM480.8 135.1h2.1v2.1h-2.1zM475.1 135.6h2.1v2.1h-2.1zM478.7 134.3h2.1v2.1h-2.1zM468.5 134.6h2.1v2.1h-2.1zM466.6 139.6h2.1v2.1h-2.1zM475.4 135.3h2.1v2.1h-2.1zM471.6 140.4h2.1v2.1h-2.1zM473.9 134.5h2.1v2.1h-2.1zM480.1 137.8h2.1v2.1h-2.1zM483.9 135.0h2.1v2.1h-2.1zM473.2 139.1h2.1v2.1h-2.1zM480.8 139.8h2.1v2.1h-2.1zM464.3 135.6h2.1v2.1h-2.1zM465.9 134.4h2.1v2.1h-2.1zM483.5 137.5h2.1v2.1h-2.1zM482.6 135.9h2.1v2.1h-2.1zM481.3 136.3h2.1v2.1h-2.1zM468.8 138.7h2.1v2.1h-2.1zM482.9 134.2h2.1v2.1h-2.1zM475.7 137.5h2.1v2.1h-2.1zM467.9 135.6h2.1v2.1h-2.1zM466.4 134.4h2.1v2.1h-2.1zM468.7 137.4h2.1v2.1h-2.1zM476.9 134.3h2.1v2.1h-2.1zM463.7 136.2h2.1v2.1h-2.1zM477.4 134.2h2.1v2.1h-2.1zM469.9 134.3h2.1v2.1h-2.1zM479.8 137.0h2.1v2.1h-2.1zM464.8 134.1h2.1v2.1h-2.1zM471.6 137.0h2.1v2.1h-2.1zM476.6 133.5h2.1v2.1h-2.1zM466.8 138.1h2.1v2.1h-2.1zM471.9 134.9h2.1v2.1h-2.1zM469.8 140.1h2.1v2.1h-2.1zM469.9 137.1h2.1v2.1h-2.1zM470.8 136.0h2.1v2.1h-2.1zM481.3 140.4h2.1v2.1h-2.1zM470.9 134.3h2.1v2.1h-2.1zM478.4 134.3h2.1v2.1h-2.1zM463.6 139.2h2.1v2.1h-2.1zM472.2 139.1h2.1v2.1h-2.1zM471.8 139.5h2.1v2.1h-2.1zM472.9 134.0h2.1v2.1h-2.1zM463.8 137.3h2.1v2.1h-2.1zM476.6 139.8h2.1v2.1h-2.1zM465.3 137.6h2.1v2.1h-2.1zM471.1 136.6h2.1v2.1h-2.1zM466.5 135.0h2.1v2.1h-2.1zM474.2 139.9h2.1v2.1h-2.1zM465.7 136.6h2.1v2.1h-2.1zM480.0 140.2h2.1v2.1h-2.1zM467.5 133.8h2.1v2.1h-2.1zM482.9 140.0h2.1v2.1h-2.1zM473.4 133.2h2.1v2.1h-2.1zM482.5 136.0h2.1v2.1h-2.1zM482.1 137.6h2.1v2.1h-2.1zM480.4 134.0h2.1v2.1h-2.1zM479.6 134.5h2.1v2.1h-2.1zM471.8 139.3h2.1v2.1h-2.1zM480.5 134.2h2.1v2.1h-2.1zM467.9 135.8h2.1v2.1h-2.1zM474.1 135.7h2.1v2.1h-2.1zM466.0 134.8h2.1v2.1h-2.1zM478.4 139.7h2.1v2.1h-2.1zM464.3 137.3h2.1v2.1h-2.1zM479.1 133.1h2.1v2.1h-2.1zM480.7 133.7h2.1v2.1h-2.1zM475.8 137.0h2.1v2.1h-2.1zM476.4 135.1h2.1v2.1h-2.1zM472.1 137.2h2.1v2.1h-2.1zM472.2 137.8h2.1v2.1h-2.1zM472.7 136.1h2.1v2.1h-2.1zM463.9 137.7h2.1v2.1h-2.1zM473.5 134.6h2.1v2.1h-2.1zM479.2 138.8h2.1v2.1h-2.1zM472.9 134.1h2.1v2.1h-2.1zM473.2 133.6h2.1v2.1h-2.1zM466.1 136.2h2.1v2.1h-2.1zM465.3 136.3h2.1v2.1h-2.1zM474.0 133.1h2.1v2.1h-2.1zM476.6 133.4h2.1v2.1h-2.1zM478.6 138.7h2.1v2.1h-2.1zM474.0 133.2h2.1v2.1h-2.1zM473.8 135.7h2.1v2.1h-2.1zM483.0 134.5h2.1v2.1h-2.1zM481.1 140.4h2.1v2.1h-2.1zM478.5 139.0h2.1v2.1h-2.1zM467.4 140.3h2.1v2.1h-2.1zM473.6 140.1h2.1v2.1h-2.1zM482.3 134.4h2.1v2.1h-2.1zM479.7 139.9h2.1v2.1h-2.1zM464.8 135.8h2.1v2.1h-2.1zM479.0 134.0h2.1v2.1h-2.1zM481.9 135.1h2.1v2.1h-2.1zM480.3 133.9h2.1v2.1h-2.1zM473.8 139.8h2.1v2.1h-2.1zM467.7 134.8h2.1v2.1h-2.1zM473.9 135.2h2.1v2.1h-2.1zM464.2 135.0h2.1v2.1h-2.1zM466.8 139.9h2.1v2.1h-2.1zM477.5 139.6h2.1v2.1h-2.1zM466.9 138.8h2.1v2.1h-2.1zM465.8 136.9h2.1v2.1h-2.1zM476.6 135.5h2.1v2.1h-2.1zM472.1 131.9h2.1v2.1h-2.1zM470.0 133.4h2.1v2.1h-2.1zM466.7 133.9h2.1v2.1h-2.1zM470.4 131.2h2.1v2.1h-2.1zM471.5 130.6h2.1v2.1h-2.1zM472.9 132.0h2.1v2.1h-2.1zM468.5 132.9h2.1v2.1h-2.1zM469.0 130.2h2.1v2.1h-2.1zM471.2 129.7h2.1v2.1h-2.1zM471.7 130.6h2.1v2.1h-2.1zM470.4 133.9h2.1v2.1h-2.1zM470.1 132.4h2.1v2.1h-2.1zM468.1 129.5h2.1v2.1h-2.1zM466.2 130.1h2.1v2.1h-2.1zM470.3 131.4h2.1v2.1h-2.1zM469.5 133.5h2.1v2.1h-2.1zM466.9 130.5h2.1v2.1h-2.1zM470.5 129.6h2.1v2.1h-2.1zM466.0 131.0h2.1v2.1h-2.1zM466.7 131.1h2.1v2.1h-2.1zM467.5 132.1h2.1v2.1h-2.1zM470.1 130.4h2.1v2.1h-2.1zM470.3 131.6h2.1v2.1h-2.1zM466.9 133.7h2.1v2.1h-2.1zM467.7 130.1h2.1v2.1h-2.1zM466.6 132.3h2.1v2.1h-2.1zM472.0 133.0h2.1v2.1h-2.1zM468.8 130.6h2.1v2.1h-2.1zM466.0 132.4h2.1v2.1h-2.1zM469.9 131.0h2.1v2.1h-2.1zM470.5 131.4h2.1v2.1h-2.1zM472.5 132.8h2.1v2.1h-2.1zM467.7 133.5h2.1v2.1h-2.1zM466.3 131.8h2.1v2.1h-2.1zM468.8 130.5h2.1v2.1h-2.1zM466.4 133.0h2.1v2.1h-2.1zM466.0 131.9h2.1v2.1h-2.1zM472.5 130.1h2.1v2.1h-2.1zM467.3 132.2h2.1v2.1h-2.1zM469.5 132.3h2.1v2.1h-2.1zM481.1 129.0h2.1v2.1h-2.1zM476.0 129.8h2.1v2.1h-2.1zM473.4 133.3h2.1v2.1h-2.1zM480.8 132.2h2.1v2.1h-2.1zM473.0 133.0h2.1v2.1h-2.1zM480.4 130.7h2.1v2.1h-2.1zM480.4 130.7h2.1v2.1h-2.1zM475.2 128.6h2.1v2.1h-2.1zM475.3 128.2h2.1v2.1h-2.1zM476.3 132.4h2.1v2.1h-2.1zM479.9 133.0h2.1v2.1h-2.1zM480.1 129.5h2.1v2.1h-2.1zM478.5 130.6h2.1v2.1h-2.1zM480.8 131.1h2.1v2.1h-2.1zM475.6 131.8h2.1v2.1h-2.1zM482.6 129.3h2.1v2.1h-2.1zM481.8 128.0h2.1v2.1h-2.1zM475.6 129.4h2.1v2.1h-2.1zM480.4 133.6h2.1v2.1h-2.1zM480.4 129.9h2.1v2.1h-2.1zM481.8 129.9h2.1v2.1h-2.1zM475.3 133.4h2.1v2.1h-2.1zM479.3 132.1h2.1v2.1h-2.1zM479.6 133.8h2.1v2.1h-2.1zM477.6 133.0h2.1v2.1h-2.1zM479.9 133.1h2.1v2.1h-2.1zM477.3 132.3h2.1v2.1h-2.1zM478.7 129.8h2.1v2.1h-2.1zM475.1 131.7h2.1v2.1h-2.1zM473.7 133.4h2.1v2.1h-2.1zM474.4 128.1h2.1v2.1h-2.1zM474.0 133.5h2.1v2.1h-2.1zM476.4 128.8h2.1v2.1h-2.1zM473.2 128.2h2.1v2.1h-2.1zM479.9 131.8h2.1v2.1h-2.1zM479.9 132.4h2.1v2.1h-2.1zM473.6 131.5h2.1v2.1h-2.1zM476.6 132.9h2.1v2.1h-2.1zM481.1 133.3h2.1v2.1h-2.1zM473.6 133.2h2.1v2.1h-2.1zM482.1 133.6h2.1v2.1h-2.1zM474.0 129.2h2.1v2.1h-2.1zM474.1 128.2h2.1v2.1h-2.1zM481.4 132.8h2.1v2.1h-2.1zM479.3 132.9h2.1v2.1h-2.1zM475.0 123.3h2.1v2.1h-2.1zM476.1 125.6h2.1v2.1h-2.1zM476.0 117.7h2.1v2.1h-2.1zM479.4 117.0h2.1v2.1h-2.1zM477.5 118.6h2.1v2.1h-2.1zM481.0 127.3h2.1v2.1h-2.1zM478.5 112.5h2.1v2.1h-2.1zM479.8 118.2h2.1v2.1h-2.1zM474.9 121.6h2.1v2.1h-2.1zM476.0 126.7h2.1v2.1h-2.1zM480.7 112.0h2.1v2.1h-2.1zM477.9 112.0h2.1v2.1h-2.1zM478.2 120.8h2.1v2.1h-2.1zM480.0 118.2h2.1v2.1h-2.1zM475.8 116.6h2.1v2.1h-2.1zM478.4 124.5h2.1v2.1h-2.1zM479.2 113.9h2.1v2.1h-2.1zM480.8 124.5h2.1v2.1h-2.1zM477.3 123.3h2.1v2.1h-2.1zM475.0 128.0h2.1v2.1h-2.1zM476.8 127.9h2.1v2.1h-2.1zM478.9 128.2h2.1v2.1h-2.1zM477.9 118.8h2.1v2.1h-2.1zM480.0 121.5h2.1v2.1h-2.1zM476.9 125.5h2.1v2.1h-2.1zM479.4 114.7h2.1v2.1h-2.1zM477.9 123.9h2.1v2.1h-2.1zM479.1 125.9h2.1v2.1h-2.1zM475.4 114.2h2.1v2.1h-2.1zM476.4 115.4h2.1v2.1h-2.1zM475.6 124.6h2.1v2.1h-2.1zM476.4 116.4h2.1v2.1h-2.1zM475.8 121.3h2.1v2.1h-2.1zM481.7 129.5h2.1v2.1h-2.1zM476.8 113.8h2.1v2.1h-2.1zM481.8 129.7h2.1v2.1h-2.1zM479.5 125.1h2.1v2.1h-2.1zM475.6 113.9h2.1v2.1h-2.1zM480.8 118.9h2.1v2.1h-2.1zM478.6 124.4h2.1v2.1h-2.1zM479.0 123.3h2.1v2.1h-2.1zM479.9 119.2h2.1v2.1h-2.1zM480.5 128.3h2.1v2.1h-2.1zM476.0 119.5h2.1v2.1h-2.1zM481.0 124.9h2.1v2.1h-2.1zM479.8 127.3h2.1v2.1h-2.1zM479.1 123.5h2.1v2.1h-2.1zM477.0 113.7h2.1v2.1h-2.1zM476.3 126.0h2.1v2.1h-2.1zM477.2 119.6h2.1v2.1h-2.1zM481.1 123.1h2.1v2.1h-2.1zM479.1 115.2h2.1v2.1h-2.1zM482.3 126.0h2.1v2.1h-2.1zM478.0 112.6h2.1v2.1h-2.1zM477.9 114.8h2.1v2.1h-2.1zM476.9 113.8h2.1v2.1h-2.1zM479.3 121.7h2.1v2.1h-2.1zM478.5 126.9h2.1v2.1h-2.1zM479.8 119.3h2.1v2.1h-2.1zM479.9 119.0h2.1v2.1h-2.1zM474.6 114.2h2.1v2.1h-2.1zM477.0 116.9h2.1v2.1h-2.1zM474.6 98.3h2.1v2.1h-2.1zM477.8 105.8h2.1v2.1h-2.1zM477.3 94.1h2.1v2.1h-2.1zM476.2 107.0h2.1v2.1h-2.1zM482.0 101.2h2.1v2.1h-2.1zM476.2 108.6h2.1v2.1h-2.1zM477.6 92.7h2.1v2.1h-2.1zM475.5 107.9h2.1v2.1h-2.1zM480.9 104.1h2.1v2.1h-2.1zM478.2 102.1h2.1v2.1h-2.1zM476.3 113.0h2.1v2.1h-2.1zM477.3 104.2h2.1v2.1h-2.1zM481.0 109.0h2.1v2.1h-2.1zM478.2 94.9h2.1v2.1h-2.1zM478.8 90.3h2.1v2.1h-2.1zM481.1 96.5h2.1v2.1h-2.1zM481.3 94.2h2.1v2.1h-2.1zM477.5 93.8h2.1v2.1h-2.1zM477.9 92.0h2.1v2.1h-2.1zM474.5 106.4h2.1v2.1h-2.1zM476.7 93.6h2.1v2.1h-2.1zM476.9 99.9h2.1v2.1h-2.1zM477.9 104.2h2.1v2.1h-2.1zM479.7 96.7h2.1v2.1h-2.1zM481.9 110.0h2.1v2.1h-2.1zM474.9 109.3h2.1v2.1h-2.1zM481.7 108.1h2.1v2.1h-2.1zM475.6 109.4h2.1v2.1h-2.1zM479.5 87.4h2.1v2.1h-2.1zM474.5 112.6h2.1v2.1h-2.1zM479.7 93.7h2.1v2.1h-2.1zM475.3 90.8h2.1v2.1h-2.1zM476.3 107.9h2.1v2.1h-2.1zM477.2 91.1h2.1v2.1h-2.1zM481.7 108.3h2.1v2.1h-2.1zM475.8 111.0h2.1v2.1h-2.1zM479.3 108.0h2.1v2.1h-2.1zM479.8 111.1h2.1v2.1h-2.1zM480.8 36.7h2.1v2.1h-2.1zM487.8 38.2h2.1v2.1h-2.1zM483.2 43.7h2.1v2.1h-2.1zM481.9 53.0h2.1v2.1h-2.1zM476.3 58.6h2.1v2.1h-2.1zM477.6 67.9h2.1v2.1h-2.1zM475.8 71.0h2.1v2.1h-2.1zM476.9 76.5h2.1v2.1h-2.1zM478.4 79.0h2.1v2.1h-2.1zM475.9 81.0h2.1v2.1h-2.1zM479.4 83.0h2.1v2.1h-2.1zM489.1 86.0h2.1v2.1h-2.1zM489.2 86.5h2.1v2.1h-2.1zM483.9 88.8h2.1v2.1h-2.1zM488.9 96.5h2.1v2.1h-2.1zM486.6 104.5h2.1v2.1h-2.1zM482.9 105.5h2.1v2.1h-2.1zM484.9 110.0h2.1v2.1h-2.1zM466.9 118.5h2.1v2.1h-2.1zM465.4 123.5h2.1v2.1h-2.1zM466.4 126.5h2.1v2.1h-2.1zM470.4 126.5h2.1v2.1h-2.1zM484.4 117.5h2.1v2.1h-2.1zM484.9 122.0h2.1v2.1h-2.1zM484.9 125.5h2.1v2.1h-2.1zM484.6 136.9h2.1v2.1h-2.1zM484.9 129.9h2.1v2.1h-2.1z"/>
<line x1="407.40" y1="132.30" x2="541.80" y2="132.30" stroke="#555" stroke-width="0.9" stroke-dasharray="4,3"/>
<line x1="474.60" y1="31.50" x2="474.60" y2="148.30" stroke="#222" stroke-width="1.0"/>
<text x="442.6" y="46.2" font-size="6.6" text-anchor="middle" textLength="51.3" lengthAdjust="spacingAndGlyphs" fill="#2b2b2b">10 significant and</text>
<text x="443.9" y="53.9" font-size="6.6" text-anchor="middle" textLength="28" lengthAdjust="spacingAndGlyphs" fill="#2b2b2b">logFC &lt; 0</text>
<text x="507.0" y="46.2" font-size="6.6" text-anchor="middle" textLength="54.1" lengthAdjust="spacingAndGlyphs" fill="#2b2b2b">189 significant and</text>
<text x="508.1" y="53.9" font-size="6.6" text-anchor="middle" textLength="28.6" lengthAdjust="spacingAndGlyphs" fill="#2b2b2b">logFC &gt; 0</text>
<text x="557.3" y="10.6" font-size="12.2" font-weight="bold" fill="#000" stroke="#000" stroke-width="0.45" textLength="8.3" lengthAdjust="spacingAndGlyphs">d</text>
<text x="609.0" y="12.2" font-size="9.5" textLength="95.6" lengthAdjust="spacingAndGlyphs" fill="#2b2b2b">PBMC multiome data</text>
<text x="599.4" y="26.6" font-size="6.3" textLength="112" lengthAdjust="spacingAndGlyphs" fill="#2b2b2b">chr5:150412442–150413364 and CD74</text>
<rect x="588.50" y="31.50" width="134.00" height="114.00" fill="none" stroke="#a5a5a5" stroke-width="1"/>
<line x1="586.30" y1="141.30" x2="588.50" y2="141.30" stroke="#777" stroke-width="1"/>
<text x="582.2" y="144.22400000000002" font-size="8.6" text-anchor="end" textLength="4.54" lengthAdjust="spacingAndGlyphs" fill="#2b2b2b">0</text>
<line x1="586.30" y1="115.10" x2="588.50" y2="115.10" stroke="#777" stroke-width="1"/>
<text x="582.2" y="118.024" font-size="8.6" text-anchor="end" textLength="9.09" lengthAdjust="spacingAndGlyphs" fill="#2b2b2b">10</text>
<line x1="586.30" y1="88.90" x2="588.50" y2="88.90" stroke="#777" stroke-width="1"/>
<text x="582.2" y="91.82400000000001" font-size="8.6" text-anchor="end" textLength="9.09" lengthAdjust="spacingAndGlyphs" fill="#2b2b2b">20</text>
<line x1="586.30" y1="62.70" x2="588.50" y2="62.70" stroke="#777" stroke-width="1"/>
<text x="582.2" y="65.62400000000001" font-size="8.6" text-anchor="end" textLength="9.09" lengthAdjust="spacingAndGlyphs" fill="#2b2b2b">30</text>
<line x1="586.30" y1="36.50" x2="588.50" y2="36.50" stroke="#777" stroke-width="1"/>
<text x="582.2" y="39.424" font-size="8.6" text-anchor="end" textLength="9.09" lengthAdjust="spacingAndGlyphs" fill="#2b2b2b">40</text>
<line x1="598.20" y1="145.80" x2="598.20" y2="148.00" stroke="#777" stroke-width="1"/>
<text x="598.2" y="158.0" font-size="8.6" text-anchor="middle" textLength="4.54" lengthAdjust="spacingAndGlyphs" fill="#2b2b2b">0</text>
<line x1="614.60" y1="145.80" x2="614.60" y2="148.00" stroke="#777" stroke-width="1"/>
<text x="614.6" y="158.0" font-size="8.6" text-anchor="middle" textLength="4.54" lengthAdjust="spacingAndGlyphs" fill="#2b2b2b">1</text>
<line x1="631.00" y1="145.80" x2="631.00" y2="148.00" stroke="#777" stroke-width="1"/>
<text x="631.0" y="158.0" font-size="8.6" text-anchor="middle" textLength="4.54" lengthAdjust="spacingAndGlyphs" fill="#2b2b2b">2</text>
<line x1="647.40" y1="145.80" x2="647.40" y2="148.00" stroke="#777" stroke-width="1"/>
<text x="647.4000000000001" y="158.0" font-size="8.6" text-anchor="middle" textLength="4.54" lengthAdjust="spacingAndGlyphs" fill="#2b2b2b">3</text>
<line x1="663.80" y1="145.80" x2="663.80" y2="148.00" stroke="#777" stroke-width="1"/>
<text x="663.8000000000001" y="158.0" font-size="8.6" text-anchor="middle" textLength="4.54" lengthAdjust="spacingAndGlyphs" fill="#2b2b2b">4</text>
<line x1="680.20" y1="145.80" x2="680.20" y2="148.00" stroke="#777" stroke-width="1"/>
<text x="680.2" y="158.0" font-size="8.6" text-anchor="middle" textLength="4.54" lengthAdjust="spacingAndGlyphs" fill="#2b2b2b">5</text>
<line x1="696.60" y1="145.80" x2="696.60" y2="148.00" stroke="#777" stroke-width="1"/>
<text x="696.6" y="158.0" font-size="8.6" text-anchor="middle" textLength="4.54" lengthAdjust="spacingAndGlyphs" fill="#2b2b2b">6</text>
<line x1="713.00" y1="145.80" x2="713.00" y2="148.00" stroke="#777" stroke-width="1"/>
<text x="713.0" y="158.0" font-size="8.6" text-anchor="middle" textLength="9.03" lengthAdjust="spacingAndGlyphs" fill="#2b2b2b">≥7</text>
<text x="596.6" y="173.0" font-size="9.6" textLength="120.1" lengthAdjust="spacingAndGlyphs" fill="#2b2b2b">Peak accessibility (insertion)</text>
<text x="0" y="0" font-size="9.4" text-anchor="middle" textLength="70.4" lengthAdjust="spacingAndGlyphs" fill="#2b2b2b" transform="translate(565.38,87.60) rotate(-90)">Gene expression</text>
<line x1="598.20" y1="84.00" x2="598.20" y2="118.00" stroke="#707070" stroke-width="1.0"/>
<line x1="598.20" y1="141.10" x2="598.20" y2="141.10" stroke="#707070" stroke-width="1.0"/>
<rect x="591.70" y="118.00" width="13.00" height="23.10" fill="#F7FBFF" stroke="#3a3a3a" stroke-width="0.9"/>
<line x1="591.70" y1="132.30" x2="604.70" y2="132.30" stroke="#2a2a2a" stroke-width="1.7"/>
<line x1="614.60" y1="63.60" x2="614.60" y2="106.40" stroke="#707070" stroke-width="1.0"/>
<line x1="614.60" y1="136.70" x2="614.60" y2="141.10" stroke="#707070" stroke-width="1.0"/>
<rect x="608.10" y="106.40" width="13.00" height="30.30" fill="#DEEBF7" stroke="#3a3a3a" stroke-width="0.9"/>
<line x1="608.10" y1="127.50" x2="621.10" y2="127.50" stroke="#2a2a2a" stroke-width="1.7"/>
<line x1="631.00" y1="62.80" x2="631.00" y2="109.70" stroke="#707070" stroke-width="1.0"/>
<line x1="631.00" y1="141.10" x2="631.00" y2="141.10" stroke="#707070" stroke-width="1.0"/>
<rect x="624.50" y="109.70" width="13.00" height="31.40" fill="#C6DBEF" stroke="#3a3a3a" stroke-width="0.9"/>
<line x1="624.50" y1="130.60" x2="637.50" y2="130.60" stroke="#2a2a2a" stroke-width="1.7"/>
<line x1="647.40" y1="37.50" x2="647.40" y2="101.30" stroke="#707070" stroke-width="1.0"/>
<line x1="647.40" y1="141.10" x2="647.40" y2="141.10" stroke="#707070" stroke-width="1.0"/>
<rect x="640.90" y="101.30" width="13.00" height="39.80" fill="#9ECAE1" stroke="#3a3a3a" stroke-width="0.9"/>
<line x1="640.90" y1="124.40" x2="653.90" y2="124.40" stroke="#2a2a2a" stroke-width="1.7"/>
<line x1="663.80" y1="37.00" x2="663.80" y2="95.50" stroke="#707070" stroke-width="1.0"/>
<line x1="663.80" y1="135.40" x2="663.80" y2="141.30" stroke="#707070" stroke-width="1.0"/>
<rect x="657.30" y="95.50" width="13.00" height="39.90" fill="#6BAED6" stroke="#3a3a3a" stroke-width="0.9"/>
<line x1="657.30" y1="124.90" x2="670.30" y2="124.90" stroke="#2a2a2a" stroke-width="1.7"/>
<line x1="680.20" y1="37.00" x2="680.20" y2="93.40" stroke="#707070" stroke-width="1.0"/>
<line x1="680.20" y1="134.20" x2="680.20" y2="141.20" stroke="#707070" stroke-width="1.0"/>
<rect x="673.70" y="93.40" width="13.00" height="40.80" fill="#4292C6" stroke="#3a3a3a" stroke-width="0.9"/>
<line x1="673.70" y1="117.10" x2="686.70" y2="117.10" stroke="#2a2a2a" stroke-width="1.7"/>
<line x1="696.60" y1="37.00" x2="696.60" y2="88.30" stroke="#707070" stroke-width="1.0"/>
<line x1="696.60" y1="132.90" x2="696.60" y2="141.20" stroke="#707070" stroke-width="1.0"/>
<rect x="690.10" y="88.30" width="13.00" height="44.60" fill="#2171B5" stroke="#3a3a3a" stroke-width="0.9"/>
<line x1="690.10" y1="118.00" x2="703.10" y2="118.00" stroke="#2a2a2a" stroke-width="1.7"/>
<line x1="713.00" y1="37.00" x2="713.00" y2="75.70" stroke="#707070" stroke-width="1.0"/>
<line x1="713.00" y1="124.50" x2="713.00" y2="141.30" stroke="#707070" stroke-width="1.0"/>
<rect x="706.50" y="75.70" width="13.00" height="48.80" fill="#08519C" stroke="#3a3a3a" stroke-width="0.9"/>
<line x1="706.50" y1="103.10" x2="719.50" y2="103.10" stroke="#2a2a2a" stroke-width="1.7"/>
<rect x="597.10" y="36.00" width="2.20" height="48.00" fill="#111"/>
<rect x="629.90" y="36.00" width="2.20" height="26.80" fill="#111"/>
<circle cx="614.60" cy="37.2" r="1.1" fill="#222"/>
<circle cx="614.60" cy="39.0" r="1.1" fill="#222"/>
<circle cx="614.60" cy="41.2" r="1.1" fill="#222"/>
<circle cx="614.60" cy="45.5" r="1.1" fill="#222"/>
<circle cx="614.60" cy="50.3" r="1.1" fill="#222"/>
<circle cx="614.60" cy="55.8" r="1.1" fill="#222"/>
<circle cx="614.60" cy="57.6" r="1.1" fill="#222"/>
<circle cx="614.60" cy="59.4" r="1.1" fill="#222"/>
<rect x="646.50" y="36.50" width="1.80" height="2.60" fill="#222"/>
<text x="-0.3" y="203.6" font-size="12.2" font-weight="bold" fill="#000" stroke="#000" stroke-width="0.45" textLength="7.8" lengthAdjust="spacingAndGlyphs">e</text>
<text x="38.3" y="205.1" font-size="9.5" textLength="69" lengthAdjust="spacingAndGlyphs" fill="#2b2b2b">Simulated data</text>
<rect x="24.50" y="210.50" width="97.00" height="135.00" fill="none" stroke="#a5a5a5" stroke-width="1"/>
<line x1="22.60" y1="340.10" x2="24.80" y2="340.10" stroke="#777" stroke-width="1"/>
<text x="19.8" y="343.024" font-size="8.6" text-anchor="end" textLength="4.54" lengthAdjust="spacingAndGlyphs" fill="#2b2b2b">0</text>
<line x1="22.60" y1="304.70" x2="24.80" y2="304.70" stroke="#777" stroke-width="1"/>
<text x="19.8" y="307.624" font-size="8.6" text-anchor="end" textLength="4.54" lengthAdjust="spacingAndGlyphs" fill="#2b2b2b">1</text>
<line x1="22.60" y1="269.30" x2="24.80" y2="269.30" stroke="#777" stroke-width="1"/>
<text x="19.8" y="272.224" font-size="8.6" text-anchor="end" textLength="4.54" lengthAdjust="spacingAndGlyphs" fill="#2b2b2b">2</text>
<line x1="22.60" y1="233.90" x2="24.80" y2="233.90" stroke="#777" stroke-width="1"/>
<text x="19.8" y="236.82400000000004" font-size="8.6" text-anchor="end" textLength="4.54" lengthAdjust="spacingAndGlyphs" fill="#2b2b2b">3</text>
<line x1="29.20" y1="345.80" x2="29.20" y2="348.00" stroke="#777" stroke-width="1"/>
<text x="29.2" y="358.3" font-size="8.6" text-anchor="middle" textLength="4.54" lengthAdjust="spacingAndGlyphs" fill="#2b2b2b">0</text>
<line x1="57.53" y1="345.80" x2="57.53" y2="348.00" stroke="#777" stroke-width="1"/>
<text x="57.53" y="358.3" font-size="8.6" text-anchor="middle" textLength="4.54" lengthAdjust="spacingAndGlyphs" fill="#2b2b2b">1</text>
<line x1="85.86" y1="345.80" x2="85.86" y2="348.00" stroke="#777" stroke-width="1"/>
<text x="85.86" y="358.3" font-size="8.6" text-anchor="middle" textLength="4.54" lengthAdjust="spacingAndGlyphs" fill="#2b2b2b">2</text>
<line x1="114.19" y1="345.80" x2="114.19" y2="348.00" stroke="#777" stroke-width="1"/>
<text x="114.19" y="358.3" font-size="8.6" text-anchor="middle" textLength="4.54" lengthAdjust="spacingAndGlyphs" fill="#2b2b2b">3</text>
<text x="15.1" y="373.1" font-size="9.6" textLength="115.8" lengthAdjust="spacingAndGlyphs" fill="#2b2b2b">True insertion rate per peak</text>
<text x="0" y="0" font-size="9.3" text-anchor="middle" textLength="99" lengthAdjust="spacingAndGlyphs" fill="#2b2b2b" transform="translate(8.65,280.20) rotate(-90)">Estimated insertion rate</text>
<path d="M29.20,340.10 L29.77,339.94 L30.33,339.77 L30.90,339.61 L31.47,339.44 L32.03,339.28 L32.60,339.11 L33.17,338.95 L33.73,338.79 L34.30,338.62 L34.87,338.46 L35.43,338.29 L36.00,338.13 L36.57,337.96 L37.13,337.80 L37.70,337.40 L38.27,336.99 L38.83,336.59 L39.40,336.19 L39.97,335.78 L40.53,335.38 L41.10,334.98 L41.67,334.58 L42.23,334.17 L42.80,333.77 L43.36,333.37 L43.93,332.97 L44.50,332.56 L45.06,332.16 L45.63,331.63 L46.20,330.98 L46.76,330.32 L47.33,329.67 L47.90,329.02 L48.46,328.36 L49.03,327.71 L49.60,327.06 L50.16,326.40 L50.73,325.75 L51.30,325.10 L51.86,324.44 L52.43,323.79 L53.00,323.05 L53.56,322.21 L54.13,321.38 L54.70,320.55 L55.26,319.71 L55.83,318.88 L56.40,318.05 L56.96,317.21 L57.53,316.38 L58.10,315.61 L58.66,314.84 L59.23,314.06 L59.80,313.29 L60.36,312.52 L60.93,311.75 L61.50,310.98 L62.06,310.20 L62.63,309.43 L63.20,308.65 L63.76,307.87 L64.33,307.09 L64.90,306.32 L65.46,305.54 L66.03,304.76 L66.60,303.99 L67.16,303.21 L67.73,302.43 L68.30,301.65 L68.86,300.88 L69.43,300.10 L70.00,299.14 L70.56,298.18 L71.13,297.23 L71.69,296.27 L72.26,295.31 L72.83,294.36 L73.39,293.40 L73.96,292.44 L74.53,291.49 L75.09,290.53 L75.66,289.57 L76.23,288.62 L76.79,287.66 L77.36,286.70 L77.93,285.75 L78.49,284.79 L79.06,283.83 L79.63,282.88 L80.19,281.94 L80.76,281.02 L81.33,280.10 L81.89,279.18 L82.46,278.26 L83.03,277.29 L83.59,276.27 L84.16,275.25 L84.73,274.23 L85.29,273.21 L85.86,272.19 L86.43,271.17 L86.99,270.15 L87.56,269.13 L88.13,268.11 L88.69,267.09 L89.26,266.07 L89.83,265.05 L90.39,263.97 L90.96,262.89 L91.53,261.80 L92.09,260.72 L92.66,259.64 L93.23,258.56 L93.79,257.47 L94.36,256.39 L94.93,255.34 L95.49,254.32 L96.06,253.30 L96.63,252.28 L97.19,251.26 L97.76,250.24 L98.33,249.22 L98.89,248.20 L99.46,247.18 L100.02,246.15 L100.59,245.13 L101.16,244.11 L101.72,243.09 L102.29,242.07 L102.86,241.05 L103.42,240.03 L103.99,239.01 L104.56,238.03 L105.12,237.08 L105.69,236.13 L106.26,235.17 L106.82,234.22 L107.39,233.27 L107.96,232.32 L108.52,231.37 L109.09,230.42 L109.66,229.47 L110.22,228.52 L110.79,227.57 L111.36,226.62 L111.92,225.67 L112.49,224.72 L113.06,223.77 L113.62,222.81 L114.19,221.86" fill="none" stroke="#D95F02" stroke-width="1.5"/>
<path d="M28.10,338.59 h2.20 M28.10,340.39 h2.20 M29.20,338.59 v1.80" stroke="#D95F02" stroke-width="0.8" fill="none"/>
<path d="M29.51,338.05 h2.22 M29.51,339.89 h2.22 M30.62,338.05 v1.84" stroke="#D95F02" stroke-width="0.8" fill="none"/>
<path d="M30.92,338.98 h2.23 M30.92,340.86 h2.23 M32.03,338.98 v1.87" stroke="#D95F02" stroke-width="0.8" fill="none"/>
<path d="M32.32,337.50 h2.25 M32.32,339.41 h2.25 M33.45,337.50 v1.91" stroke="#D95F02" stroke-width="0.8" fill="none"/>
<path d="M33.73,337.42 h2.27 M33.73,339.36 h2.27 M34.87,337.42 v1.95" stroke="#D95F02" stroke-width="0.8" fill="none"/>
<path d="M35.14,336.54 h2.28 M35.14,338.52 h2.28 M36.28,336.54 v1.98" stroke="#D95F02" stroke-width="0.8" fill="none"/>
<path d="M36.55,336.52 h2.30 M36.55,338.54 h2.30 M37.70,336.52 v2.02" stroke="#D95F02" stroke-width="0.8" fill="none"/>
<path d="M37.96,334.55 h2.32 M37.96,336.60 h2.32 M39.12,334.55 v2.06" stroke="#D95F02" stroke-width="0.8" fill="none"/>
<path d="M39.37,334.22 h2.33 M39.37,336.31 h2.33 M40.53,334.22 v2.09" stroke="#D95F02" stroke-width="0.8" fill="none"/>
<path d="M40.77,333.81 h2.35 M40.77,335.94 h2.35 M41.95,333.81 v2.13" stroke="#D95F02" stroke-width="0.8" fill="none"/>
<path d="M42.18,332.85 h2.37 M42.18,335.02 h2.37 M43.36,332.85 v2.17" stroke="#D95F02" stroke-width="0.8" fill="none"/>
<path d="M43.59,332.03 h2.38 M43.59,334.23 h2.38 M44.78,332.03 v2.20" stroke="#D95F02" stroke-width="0.8" fill="none"/>
<path d="M45.00,329.87 h2.40 M45.00,332.11 h2.40 M46.20,329.87 v2.24" stroke="#D95F02" stroke-width="0.8" fill="none"/>
<path d="M46.41,329.14 h2.42 M46.41,331.42 h2.42 M47.61,329.14 v2.28" stroke="#D95F02" stroke-width="0.8" fill="none"/>
<path d="M47.81,326.62 h2.43 M47.81,328.94 h2.43 M49.03,326.62 v2.31" stroke="#D95F02" stroke-width="0.8" fill="none"/>
<path d="M49.22,325.66 h2.45 M49.22,328.01 h2.45 M50.45,325.66 v2.35" stroke="#D95F02" stroke-width="0.8" fill="none"/>
<path d="M50.63,323.27 h2.47 M50.63,325.65 h2.47 M51.86,323.27 v2.39" stroke="#D95F02" stroke-width="0.8" fill="none"/>
<path d="M52.04,321.42 h2.48 M52.04,323.84 h2.48 M53.28,321.42 v2.42" stroke="#D95F02" stroke-width="0.8" fill="none"/>
<path d="M53.45,319.23 h2.50 M53.45,321.69 h2.50 M54.70,319.23 v2.46" stroke="#D95F02" stroke-width="0.8" fill="none"/>
<path d="M54.86,316.45 h2.52 M54.86,318.94 h2.52 M56.11,316.45 v2.50" stroke="#D95F02" stroke-width="0.8" fill="none"/>
<path d="M56.26,316.16 h2.53 M56.26,318.70 h2.53 M57.53,316.16 v2.53" stroke="#D95F02" stroke-width="0.8" fill="none"/>
<path d="M57.67,312.44 h2.55 M57.67,315.01 h2.55 M58.95,312.44 v2.57" stroke="#D95F02" stroke-width="0.8" fill="none"/>
<path d="M59.08,311.28 h2.57 M59.08,313.89 h2.57 M60.36,311.28 v2.61" stroke="#D95F02" stroke-width="0.8" fill="none"/>
<path d="M60.49,309.13 h2.58 M60.49,311.78 h2.58 M61.78,309.13 v2.64" stroke="#D95F02" stroke-width="0.8" fill="none"/>
<path d="M61.90,306.96 h2.60 M61.90,309.64 h2.60 M63.20,306.96 v2.68" stroke="#D95F02" stroke-width="0.8" fill="none"/>
<path d="M63.30,304.62 h2.62 M63.30,307.34 h2.62 M64.61,304.62 v2.72" stroke="#D95F02" stroke-width="0.8" fill="none"/>
<path d="M64.71,303.65 h2.63 M64.71,306.40 h2.63 M66.03,303.65 v2.75" stroke="#D95F02" stroke-width="0.8" fill="none"/>
<path d="M66.12,301.60 h2.65 M66.12,304.39 h2.65 M67.45,301.60 v2.79" stroke="#D95F02" stroke-width="0.8" fill="none"/>
<path d="M67.53,298.48 h2.67 M67.53,301.31 h2.67 M68.86,298.48 v2.83" stroke="#D95F02" stroke-width="0.8" fill="none"/>
<path d="M68.94,298.13 h2.68 M68.94,301.00 h2.68 M70.28,298.13 v2.86" stroke="#D95F02" stroke-width="0.8" fill="none"/>
<path d="M70.34,294.53 h2.70 M70.34,297.43 h2.70 M71.69,294.53 v2.90" stroke="#D95F02" stroke-width="0.8" fill="none"/>
<path d="M71.75,292.12 h2.72 M71.75,295.06 h2.72 M73.11,292.12 v2.94" stroke="#D95F02" stroke-width="0.8" fill="none"/>
<path d="M73.16,291.00 h2.73 M73.16,293.98 h2.73 M74.53,291.00 v2.97" stroke="#D95F02" stroke-width="0.8" fill="none"/>
<path d="M74.57,287.36 h2.75 M74.57,290.37 h2.75 M75.94,287.36 v3.01" stroke="#D95F02" stroke-width="0.8" fill="none"/>
<path d="M75.98,284.79 h2.77 M75.98,287.84 h2.77 M77.36,284.79 v3.05" stroke="#D95F02" stroke-width="0.8" fill="none"/>
<path d="M77.39,281.85 h2.78 M77.39,284.94 h2.78 M78.78,281.85 v3.08" stroke="#D95F02" stroke-width="0.8" fill="none"/>
<path d="M78.79,280.74 h2.80 M78.79,283.86 h2.80 M80.19,280.74 v3.12" stroke="#D95F02" stroke-width="0.8" fill="none"/>
<path d="M80.20,277.04 h2.82 M80.20,280.19 h2.82 M81.61,277.04 v3.16" stroke="#D95F02" stroke-width="0.8" fill="none"/>
<path d="M81.61,275.67 h2.83 M81.61,278.86 h2.83 M83.03,275.67 v3.19" stroke="#D95F02" stroke-width="0.8" fill="none"/>
<path d="M83.02,273.15 h2.85 M83.02,276.38 h2.85 M84.44,273.15 v3.23" stroke="#D95F02" stroke-width="0.8" fill="none"/>
<path d="M84.43,269.71 h2.87 M84.43,272.98 h2.87 M85.86,269.71 v3.27" stroke="#D95F02" stroke-width="0.8" fill="none"/>
<path d="M85.83,268.98 h2.88 M85.83,272.28 h2.88 M87.28,268.98 v3.30" stroke="#D95F02" stroke-width="0.8" fill="none"/>
<path d="M87.24,264.96 h2.90 M87.24,268.30 h2.90 M88.69,264.96 v3.34" stroke="#D95F02" stroke-width="0.8" fill="none"/>
<path d="M88.65,262.56 h2.92 M88.65,265.93 h2.92 M90.11,262.56 v3.38" stroke="#D95F02" stroke-width="0.8" fill="none"/>
<path d="M90.06,260.44 h2.93 M90.06,263.85 h2.93 M91.53,260.44 v3.41" stroke="#D95F02" stroke-width="0.8" fill="none"/>
<path d="M91.47,256.60 h2.95 M91.47,260.05 h2.95 M92.94,256.60 v3.45" stroke="#D95F02" stroke-width="0.8" fill="none"/>
<path d="M92.88,254.93 h2.97 M92.88,258.42 h2.97 M94.36,254.93 v3.49" stroke="#D95F02" stroke-width="0.8" fill="none"/>
<path d="M94.28,252.10 h2.98 M94.28,255.62 h2.98 M95.78,252.10 v3.52" stroke="#D95F02" stroke-width="0.8" fill="none"/>
<path d="M95.69,249.42 h3.00 M95.69,252.98 h3.00 M97.19,249.42 v3.56" stroke="#D95F02" stroke-width="0.8" fill="none"/>
<path d="M97.10,246.33 h3.02 M97.10,249.93 h3.02 M98.61,246.33 v3.60" stroke="#D95F02" stroke-width="0.8" fill="none"/>
<path d="M98.51,244.95 h3.03 M98.51,248.59 h3.03 M100.02,244.95 v3.63" stroke="#D95F02" stroke-width="0.8" fill="none"/>
<path d="M99.92,241.91 h3.05 M99.92,245.58 h3.05 M101.44,241.91 v3.67" stroke="#D95F02" stroke-width="0.8" fill="none"/>
<path d="M101.32,239.36 h3.07 M101.32,243.07 h3.07 M102.86,239.36 v3.71" stroke="#D95F02" stroke-width="0.8" fill="none"/>
<path d="M102.73,236.52 h3.08 M102.73,240.26 h3.08 M104.27,236.52 v3.74" stroke="#D95F02" stroke-width="0.8" fill="none"/>
<path d="M104.14,233.54 h3.10 M104.14,237.32 h3.10 M105.69,233.54 v3.78" stroke="#D95F02" stroke-width="0.8" fill="none"/>
<path d="M105.55,232.28 h3.12 M105.55,236.10 h3.12 M107.11,232.28 v3.82" stroke="#D95F02" stroke-width="0.8" fill="none"/>
<path d="M106.96,228.75 h3.13 M106.96,232.60 h3.13 M108.52,228.75 v3.85" stroke="#D95F02" stroke-width="0.8" fill="none"/>
<path d="M108.37,227.25 h3.15 M108.37,231.14 h3.15 M109.94,227.25 v3.89" stroke="#D95F02" stroke-width="0.8" fill="none"/>
<path d="M109.77,224.65 h3.17 M109.77,228.57 h3.17 M111.36,224.65 v3.93" stroke="#D95F02" stroke-width="0.8" fill="none"/>
<path d="M111.18,222.74 h3.18 M111.18,226.71 h3.18 M112.77,222.74 v3.96" stroke="#D95F02" stroke-width="0.8" fill="none"/>
<path d="M112.59,219.85 h3.20 M112.59,223.85 h3.20 M114.19,219.85 v4.00" stroke="#D95F02" stroke-width="0.8" fill="none"/>
<path d="M29.20,340.10 L29.77,339.42 L30.33,338.74 L30.90,338.06 L31.47,337.38 L32.03,336.70 L32.60,336.02 L33.17,335.34 L33.73,334.66 L34.30,333.98 L34.87,333.30 L35.43,332.62 L36.00,331.94 L36.57,331.26 L37.13,330.58 L37.70,329.90 L38.27,329.23 L38.83,328.55 L39.40,327.87 L39.97,327.19 L40.53,326.51 L41.10,325.83 L41.67,325.15 L42.23,324.47 L42.80,323.79 L43.36,323.11 L43.93,322.38 L44.50,321.66 L45.06,320.93 L45.63,320.21 L46.20,319.48 L46.76,318.76 L47.33,318.03 L47.90,317.31 L48.46,316.58 L49.03,315.86 L49.60,315.13 L50.16,314.40 L50.73,313.68 L51.30,312.95 L51.86,312.23 L52.43,311.50 L53.00,310.78 L53.56,310.05 L54.13,309.33 L54.70,308.60 L55.26,307.89 L55.83,307.20 L56.40,306.51 L56.96,305.82 L57.53,305.13 L58.10,304.44 L58.66,303.75 L59.23,303.06 L59.80,302.37 L60.36,301.67 L60.93,300.98 L61.50,300.29 L62.06,299.60 L62.63,298.91 L63.20,298.22 L63.76,297.53 L64.33,296.84 L64.90,296.15 L65.46,295.45 L66.03,294.76 L66.60,294.07 L67.16,293.39 L67.73,292.71 L68.30,292.04 L68.86,291.36 L69.43,290.69 L70.00,290.01 L70.56,289.34 L71.13,288.66 L71.69,287.99 L72.26,287.31 L72.83,286.64 L73.39,285.96 L73.96,285.29 L74.53,284.61 L75.09,283.94 L75.66,283.26 L76.23,282.59 L76.79,281.91 L77.36,281.24 L77.93,280.56 L78.49,279.89 L79.06,279.21 L79.63,278.55 L80.19,277.88 L80.76,277.21 L81.33,276.55 L81.89,275.88 L82.46,275.21 L83.03,274.55 L83.59,273.88 L84.16,273.21 L84.73,272.55 L85.29,271.88 L85.86,271.22 L86.43,270.55 L86.99,269.88 L87.56,269.22 L88.13,268.55 L88.69,267.88 L89.26,267.38 L89.83,266.87 L90.39,266.37 L90.96,265.86 L91.53,265.36 L92.09,264.85 L92.66,264.34 L93.23,263.84 L93.79,263.33 L94.36,262.83 L94.93,262.21 L95.49,261.48 L96.06,260.75 L96.63,260.02 L97.19,259.29 L97.76,258.57 L98.33,257.84 L98.89,257.11 L99.46,256.38 L100.02,255.65 L100.59,254.92 L101.16,254.19 L101.72,253.46 L102.29,252.73 L102.86,252.01 L103.42,251.28 L103.99,250.55 L104.56,249.80 L105.12,249.03 L105.69,248.26 L106.26,247.49 L106.82,246.72 L107.39,245.96 L107.96,245.19 L108.52,244.42 L109.09,243.65 L109.66,242.88 L110.22,242.11 L110.79,241.34 L111.36,240.58 L111.92,239.81 L112.49,239.04 L113.06,238.27 L113.62,237.50 L114.19,236.73" fill="none" stroke="#1B9E77" stroke-width="1.5"/>
<path d="M28.10,338.19 h2.20 M28.10,339.99 h2.20 M29.20,338.19 v1.80" stroke="#1B9E77" stroke-width="0.8" fill="none"/>
<path d="M29.51,337.15 h2.22 M29.51,338.99 h2.22 M30.62,337.15 v1.84" stroke="#1B9E77" stroke-width="0.8" fill="none"/>
<path d="M30.92,335.14 h2.23 M30.92,337.02 h2.23 M32.03,335.14 v1.87" stroke="#1B9E77" stroke-width="0.8" fill="none"/>
<path d="M32.32,334.41 h2.25 M32.32,336.32 h2.25 M33.45,334.41 v1.91" stroke="#1B9E77" stroke-width="0.8" fill="none"/>
<path d="M33.73,332.72 h2.27 M33.73,334.67 h2.27 M34.87,332.72 v1.95" stroke="#1B9E77" stroke-width="0.8" fill="none"/>
<path d="M35.14,331.04 h2.28 M35.14,333.02 h2.28 M36.28,331.04 v1.98" stroke="#1B9E77" stroke-width="0.8" fill="none"/>
<path d="M36.55,328.71 h2.30 M36.55,330.73 h2.30 M37.70,328.71 v2.02" stroke="#1B9E77" stroke-width="0.8" fill="none"/>
<path d="M37.96,326.89 h2.32 M37.96,328.95 h2.32 M39.12,326.89 v2.06" stroke="#1B9E77" stroke-width="0.8" fill="none"/>
<path d="M39.37,324.86 h2.33 M39.37,326.95 h2.33 M40.53,324.86 v2.09" stroke="#1B9E77" stroke-width="0.8" fill="none"/>
<path d="M40.77,324.72 h2.35 M40.77,326.85 h2.35 M41.95,324.72 v2.13" stroke="#1B9E77" stroke-width="0.8" fill="none"/>
<path d="M42.18,321.55 h2.37 M42.18,323.72 h2.37 M43.36,321.55 v2.17" stroke="#1B9E77" stroke-width="0.8" fill="none"/>
<path d="M43.59,319.37 h2.38 M43.59,321.58 h2.38 M44.78,319.37 v2.20" stroke="#1B9E77" stroke-width="0.8" fill="none"/>
<path d="M45.00,318.27 h2.40 M45.00,320.51 h2.40 M46.20,318.27 v2.24" stroke="#1B9E77" stroke-width="0.8" fill="none"/>
<path d="M46.41,317.49 h2.42 M46.41,319.76 h2.42 M47.61,317.49 v2.28" stroke="#1B9E77" stroke-width="0.8" fill="none"/>
<path d="M47.81,315.12 h2.43 M47.81,317.44 h2.43 M49.03,315.12 v2.31" stroke="#1B9E77" stroke-width="0.8" fill="none"/>
<path d="M49.22,313.92 h2.45 M49.22,316.27 h2.45 M50.45,313.92 v2.35" stroke="#1B9E77" stroke-width="0.8" fill="none"/>
<path d="M50.63,311.69 h2.47 M50.63,314.08 h2.47 M51.86,311.69 v2.39" stroke="#1B9E77" stroke-width="0.8" fill="none"/>
<path d="M52.04,308.31 h2.48 M52.04,310.73 h2.48 M53.28,308.31 v2.42" stroke="#1B9E77" stroke-width="0.8" fill="none"/>
<path d="M53.45,307.14 h2.50 M53.45,309.60 h2.50 M54.70,307.14 v2.46" stroke="#1B9E77" stroke-width="0.8" fill="none"/>
<path d="M54.86,305.27 h2.52 M54.86,307.77 h2.52 M56.11,305.27 v2.50" stroke="#1B9E77" stroke-width="0.8" fill="none"/>
<path d="M56.26,303.25 h2.53 M56.26,305.78 h2.53 M57.53,303.25 v2.53" stroke="#1B9E77" stroke-width="0.8" fill="none"/>
<path d="M57.67,301.25 h2.55 M57.67,303.82 h2.55 M58.95,301.25 v2.57" stroke="#1B9E77" stroke-width="0.8" fill="none"/>
<path d="M59.08,300.13 h2.57 M59.08,302.74 h2.57 M60.36,300.13 v2.61" stroke="#1B9E77" stroke-width="0.8" fill="none"/>
<path d="M60.49,298.38 h2.58 M60.49,301.02 h2.58 M61.78,298.38 v2.64" stroke="#1B9E77" stroke-width="0.8" fill="none"/>
<path d="M61.90,296.61 h2.60 M61.90,299.29 h2.60 M63.20,296.61 v2.68" stroke="#1B9E77" stroke-width="0.8" fill="none"/>
<path d="M63.30,294.72 h2.62 M63.30,297.43 h2.62 M64.61,294.72 v2.72" stroke="#1B9E77" stroke-width="0.8" fill="none"/>
<path d="M64.71,293.18 h2.63 M64.71,295.93 h2.63 M66.03,293.18 v2.75" stroke="#1B9E77" stroke-width="0.8" fill="none"/>
<path d="M66.12,291.27 h2.65 M66.12,294.06 h2.65 M67.45,291.27 v2.79" stroke="#1B9E77" stroke-width="0.8" fill="none"/>
<path d="M67.53,290.56 h2.67 M67.53,293.39 h2.67 M68.86,290.56 v2.83" stroke="#1B9E77" stroke-width="0.8" fill="none"/>
<path d="M68.94,287.89 h2.68 M68.94,290.75 h2.68 M70.28,287.89 v2.86" stroke="#1B9E77" stroke-width="0.8" fill="none"/>
<path d="M70.34,286.63 h2.70 M70.34,289.53 h2.70 M71.69,286.63 v2.90" stroke="#1B9E77" stroke-width="0.8" fill="none"/>
<path d="M71.75,284.27 h2.72 M71.75,287.21 h2.72 M73.11,284.27 v2.94" stroke="#1B9E77" stroke-width="0.8" fill="none"/>
<path d="M73.16,283.97 h2.73 M73.16,286.95 h2.73 M74.53,283.97 v2.97" stroke="#1B9E77" stroke-width="0.8" fill="none"/>
<path d="M74.57,282.10 h2.75 M74.57,285.11 h2.75 M75.94,282.10 v3.01" stroke="#1B9E77" stroke-width="0.8" fill="none"/>
<path d="M75.98,280.70 h2.77 M75.98,283.74 h2.77 M77.36,280.70 v3.05" stroke="#1B9E77" stroke-width="0.8" fill="none"/>
<path d="M77.39,277.42 h2.78 M77.39,280.51 h2.78 M78.78,277.42 v3.08" stroke="#1B9E77" stroke-width="0.8" fill="none"/>
<path d="M78.79,275.44 h2.80 M78.79,278.56 h2.80 M80.19,275.44 v3.12" stroke="#1B9E77" stroke-width="0.8" fill="none"/>
<path d="M80.20,274.30 h2.82 M80.20,277.46 h2.82 M81.61,274.30 v3.16" stroke="#1B9E77" stroke-width="0.8" fill="none"/>
<path d="M81.61,273.23 h2.83 M81.61,276.42 h2.83 M83.03,273.23 v3.19" stroke="#1B9E77" stroke-width="0.8" fill="none"/>
<path d="M83.02,270.58 h2.85 M83.02,273.81 h2.85 M84.44,270.58 v3.23" stroke="#1B9E77" stroke-width="0.8" fill="none"/>
<path d="M84.43,268.97 h2.87 M84.43,272.24 h2.87 M85.86,268.97 v3.27" stroke="#1B9E77" stroke-width="0.8" fill="none"/>
<path d="M85.83,267.77 h2.88 M85.83,271.07 h2.88 M87.28,267.77 v3.30" stroke="#1B9E77" stroke-width="0.8" fill="none"/>
<path d="M87.24,266.73 h2.90 M87.24,270.07 h2.90 M88.69,266.73 v3.34" stroke="#1B9E77" stroke-width="0.8" fill="none"/>
<path d="M88.65,265.35 h2.92 M88.65,268.73 h2.92 M90.11,265.35 v3.38" stroke="#1B9E77" stroke-width="0.8" fill="none"/>
<path d="M90.06,263.81 h2.93 M90.06,267.23 h2.93 M91.53,263.81 v3.41" stroke="#1B9E77" stroke-width="0.8" fill="none"/>
<path d="M91.47,262.75 h2.95 M91.47,266.20 h2.95 M92.94,262.75 v3.45" stroke="#1B9E77" stroke-width="0.8" fill="none"/>
<path d="M92.88,261.23 h2.97 M92.88,264.72 h2.97 M94.36,261.23 v3.49" stroke="#1B9E77" stroke-width="0.8" fill="none"/>
<path d="M94.28,259.05 h2.98 M94.28,262.58 h2.98 M95.78,259.05 v3.52" stroke="#1B9E77" stroke-width="0.8" fill="none"/>
<path d="M95.69,256.59 h3.00 M95.69,260.15 h3.00 M97.19,256.59 v3.56" stroke="#1B9E77" stroke-width="0.8" fill="none"/>
<path d="M97.10,256.62 h3.02 M97.10,260.22 h3.02 M98.61,256.62 v3.60" stroke="#1B9E77" stroke-width="0.8" fill="none"/>
<path d="M98.51,253.69 h3.03 M98.51,257.32 h3.03 M100.02,253.69 v3.63" stroke="#1B9E77" stroke-width="0.8" fill="none"/>
<path d="M99.92,252.97 h3.05 M99.92,256.64 h3.05 M101.44,252.97 v3.67" stroke="#1B9E77" stroke-width="0.8" fill="none"/>
<path d="M101.32,250.96 h3.07 M101.32,254.67 h3.07 M102.86,250.96 v3.71" stroke="#1B9E77" stroke-width="0.8" fill="none"/>
<path d="M102.73,247.65 h3.08 M102.73,251.40 h3.08 M104.27,247.65 v3.74" stroke="#1B9E77" stroke-width="0.8" fill="none"/>
<path d="M104.14,246.21 h3.10 M104.14,249.99 h3.10 M105.69,246.21 v3.78" stroke="#1B9E77" stroke-width="0.8" fill="none"/>
<path d="M105.55,243.54 h3.12 M105.55,247.36 h3.12 M107.11,243.54 v3.82" stroke="#1B9E77" stroke-width="0.8" fill="none"/>
<path d="M106.96,242.61 h3.13 M106.96,246.46 h3.13 M108.52,242.61 v3.85" stroke="#1B9E77" stroke-width="0.8" fill="none"/>
<path d="M108.37,241.58 h3.15 M108.37,245.47 h3.15 M109.94,241.58 v3.89" stroke="#1B9E77" stroke-width="0.8" fill="none"/>
<path d="M109.77,238.85 h3.17 M109.77,242.78 h3.17 M111.36,238.85 v3.93" stroke="#1B9E77" stroke-width="0.8" fill="none"/>
<path d="M111.18,236.48 h3.18 M111.18,240.44 h3.18 M112.77,236.48 v3.96" stroke="#1B9E77" stroke-width="0.8" fill="none"/>
<path d="M112.59,233.80 h3.20 M112.59,237.80 h3.20 M114.19,233.80 v4.00" stroke="#1B9E77" stroke-width="0.8" fill="none"/>
<line x1="29.20" y1="340.10" x2="120.80" y2="225.20" stroke="#666" stroke-width="0.7" stroke-dasharray="2.5,2"/>
<text x="125.6" y="267.2" font-size="8.2" textLength="35" lengthAdjust="spacingAndGlyphs" fill="#2b2b2b">Approach</text>
<line x1="126.60" y1="277.30" x2="135.60" y2="277.30" stroke="#1B9E77" stroke-width="1.1"/>
<circle cx="131.1" cy="277.3" r="1.1" fill="#1B9E77"/>
<text x="139.6" y="279.8" font-size="7.1" textLength="27.8" lengthAdjust="spacingAndGlyphs" fill="#2b2b2b">ssPoisson</text>
<line x1="126.60" y1="289.50" x2="135.60" y2="289.50" stroke="#D95F02" stroke-width="1.1"/>
<circle cx="131.1" cy="289.5" r="1.1" fill="#D95F02"/>
<text x="139.6" y="292.0" font-size="7.1" textLength="22.4" lengthAdjust="spacingAndGlyphs" fill="#2b2b2b">Poisson</text>
<text x="178.3" y="203.6" font-size="12.2" font-weight="bold" fill="#000" stroke="#000" stroke-width="0.45" textLength="5.6" lengthAdjust="spacingAndGlyphs">f</text>
<rect x="210.50" y="199.50" width="140.00" height="61.00" fill="none" stroke="#a5a5a5" stroke-width="1"/>
<line x1="208.30" y1="205.20" x2="210.50" y2="205.20" stroke="#777" stroke-width="1"/>
<text x="204.6" y="208.124" font-size="8.6" text-anchor="end" textLength="11.36" lengthAdjust="spacingAndGlyphs" fill="#2b2b2b">0.7</text>
<line x1="208.30" y1="220.83" x2="210.50" y2="220.83" stroke="#777" stroke-width="1"/>
<text x="204.6" y="223.754" font-size="8.6" text-anchor="end" textLength="11.36" lengthAdjust="spacingAndGlyphs" fill="#2b2b2b">0.6</text>
<line x1="208.30" y1="236.46" x2="210.50" y2="236.46" stroke="#777" stroke-width="1"/>
<text x="204.6" y="239.384" font-size="8.6" text-anchor="end" textLength="11.36" lengthAdjust="spacingAndGlyphs" fill="#2b2b2b">0.5</text>
<line x1="208.30" y1="252.09" x2="210.50" y2="252.09" stroke="#777" stroke-width="1"/>
<text x="204.6" y="255.01399999999998" font-size="8.6" text-anchor="end" textLength="11.36" lengthAdjust="spacingAndGlyphs" fill="#2b2b2b">0.4</text>
<rect x="210.50" y="270.50" width="140.00" height="59.00" fill="none" stroke="#a5a5a5" stroke-width="1"/>
<line x1="208.30" y1="273.90" x2="210.50" y2="273.90" stroke="#777" stroke-width="1"/>
<text x="204.6" y="276.82399999999996" font-size="8.6" text-anchor="end" textLength="4.54" lengthAdjust="spacingAndGlyphs" fill="#2b2b2b">0</text>
<line x1="208.30" y1="292.75" x2="210.50" y2="292.75" stroke="#777" stroke-width="1"/>
<text x="204.6" y="295.674" font-size="8.6" text-anchor="end" textLength="11.36" lengthAdjust="spacingAndGlyphs" fill="#2b2b2b">0.1</text>
<line x1="208.30" y1="311.60" x2="210.50" y2="311.60" stroke="#777" stroke-width="1"/>
<text x="204.6" y="314.52399999999994" font-size="8.6" text-anchor="end" textLength="11.36" lengthAdjust="spacingAndGlyphs" fill="#2b2b2b">0.2</text>
<line x1="210.40" y1="283.30" x2="350.60" y2="283.30" stroke="#555" stroke-width="0.9" stroke-dasharray="4,3"/>
<line x1="236.90" y1="329.20" x2="236.90" y2="331.80" stroke="#a5a5a5" stroke-width="1"/>
<line x1="281.20" y1="329.20" x2="281.20" y2="331.80" stroke="#a5a5a5" stroke-width="1"/>
<line x1="325.00" y1="329.20" x2="325.00" y2="331.80" stroke="#a5a5a5" stroke-width="1"/>
<text x="236.9" y="342.4" font-size="8.7" text-anchor="middle" textLength="31.2" lengthAdjust="spacingAndGlyphs" fill="#2b2b2b">Setting 1</text>
<text x="281.2" y="342.4" font-size="8.7" text-anchor="middle" textLength="31.2" lengthAdjust="spacingAndGlyphs" fill="#2b2b2b">Setting 2</text>
<text x="325.0" y="342.4" font-size="8.7" text-anchor="middle" textLength="31.2" lengthAdjust="spacingAndGlyphs" fill="#2b2b2b">Setting 3</text>
<text x="0" y="0" font-size="9.0" text-anchor="middle" textLength="26" lengthAdjust="spacingAndGlyphs" fill="#2b2b2b" transform="translate(187.24,230.20) rotate(-90)">Power</text>
<text x="0" y="0" font-size="9.0" text-anchor="middle" textLength="52" lengthAdjust="spacingAndGlyphs" fill="#2b2b2b" transform="translate(187.24,299.50) rotate(-90)">Type 1 error</text>
<path d="M227.00,202.30 h5 M227.00,204.30 h5" stroke="#E64B35" stroke-width="1.1"/>
<path d="M227.70,202.30 L231.30,202.30 L230.00,203.30 L231.30,204.30 L227.70,204.30 L229.00,203.30 Z" fill="#E64B35"/>
<path d="M234.30,205.50 h5 M234.30,207.50 h5" stroke="#4DBBD5" stroke-width="1.1"/>
<path d="M235.00,205.50 L238.60,205.50 L237.30,206.50 L238.60,207.50 L235.00,207.50 L236.30,206.50 Z" fill="#4DBBD5"/>
<path d="M241.60,237.90 h5 M241.60,239.90 h5" stroke="#00A087" stroke-width="1.1"/>
<path d="M242.30,237.90 L245.90,237.90 L244.60,238.90 L245.90,239.90 L242.30,239.90 L243.60,238.90 Z" fill="#00A087"/>
<path d="M270.50,225.80 h5 M270.50,227.80 h5" stroke="#E64B35" stroke-width="1.1"/>
<path d="M271.20,225.80 L274.80,225.80 L273.50,226.80 L274.80,227.80 L271.20,227.80 L272.50,226.80 Z" fill="#E64B35"/>
<path d="M278.10,225.80 h5 M278.10,227.80 h5" stroke="#4DBBD5" stroke-width="1.1"/>
<path d="M278.80,225.80 L282.40,225.80 L281.10,226.80 L282.40,227.80 L278.80,227.80 L280.10,226.80 Z" fill="#4DBBD5"/>
<path d="M285.20,245.50 h5 M285.20,247.50 h5" stroke="#00A087" stroke-width="1.1"/>
<path d="M285.90,245.50 L289.50,245.50 L288.20,246.50 L289.50,247.50 L285.90,247.50 L287.20,246.50 Z" fill="#00A087"/>
<path d="M314.40,204.20 h5 M314.40,206.20 h5" stroke="#E64B35" stroke-width="1.1"/>
<path d="M315.10,204.20 L318.70,204.20 L317.40,205.20 L318.70,206.20 L315.10,206.20 L316.40,205.20 Z" fill="#E64B35"/>
<path d="M322.00,227.50 h5 M322.00,229.50 h5" stroke="#4DBBD5" stroke-width="1.1"/>
<path d="M322.70,227.50 L326.30,227.50 L325.00,228.50 L326.30,229.50 L322.70,229.50 L324.00,228.50 Z" fill="#4DBBD5"/>
<path d="M329.10,255.70 h5 M329.10,257.70 h5" stroke="#00A087" stroke-width="1.1"/>
<path d="M329.80,255.70 L333.40,255.70 L332.10,256.70 L333.40,257.70 L329.80,257.70 L331.10,256.70 Z" fill="#00A087"/>
<path d="M227.00,282.40 h5 M227.00,284.40 h5" stroke="#E64B35" stroke-width="1.1"/>
<path d="M227.70,282.40 L231.30,282.40 L230.00,283.40 L231.30,284.40 L227.70,284.40 L229.00,283.40 Z" fill="#E64B35"/>
<path d="M234.30,281.30 h5 M234.30,283.30 h5" stroke="#4DBBD5" stroke-width="1.1"/>
<path d="M235.00,281.30 L238.60,281.30 L237.30,282.30 L238.60,283.30 L235.00,283.30 L236.30,282.30 Z" fill="#4DBBD5"/>
<path d="M241.60,279.70 h5 M241.60,281.70 h5" stroke="#00A087" stroke-width="1.1"/>
<path d="M242.30,279.70 L245.90,279.70 L244.60,280.70 L245.90,281.70 L242.30,281.70 L243.60,280.70 Z" fill="#00A087"/>
<path d="M270.40,281.60 h5 M270.40,283.60 h5" stroke="#E64B35" stroke-width="1.1"/>
<path d="M271.10,281.60 L274.70,281.60 L273.40,282.60 L274.70,283.60 L271.10,283.60 L272.40,282.60 Z" fill="#E64B35"/>
<path d="M278.60,281.60 h5 M278.60,283.60 h5" stroke="#4DBBD5" stroke-width="1.1"/>
<path d="M279.30,281.60 L282.90,281.60 L281.60,282.60 L282.90,283.60 L279.30,283.60 L280.60,282.60 Z" fill="#4DBBD5"/>
<path d="M285.10,280.10 h5 M285.10,282.10 h5" stroke="#00A087" stroke-width="1.1"/>
<path d="M285.80,280.10 L289.40,280.10 L288.10,281.10 L289.40,282.10 L285.80,282.10 L287.10,281.10 Z" fill="#00A087"/>
<path d="M314.40,282.20 h5 M314.40,284.20 h5" stroke="#E64B35" stroke-width="1.1"/>
<path d="M315.10,282.20 L318.70,282.20 L317.40,283.20 L318.70,284.20 L315.10,284.20 L316.40,283.20 Z" fill="#E64B35"/>
<path d="M321.90,321.80 h5 M321.90,323.80 h5" stroke="#4DBBD5" stroke-width="1.1"/>
<path d="M322.60,321.80 L326.20,321.80 L324.90,322.80 L326.20,323.80 L322.60,323.80 L323.90,322.80 Z" fill="#4DBBD5"/>
<path d="M329.10,292.70 h5 M329.10,294.70 h5" stroke="#00A087" stroke-width="1.1"/>
<path d="M329.80,292.70 L333.40,292.70 L332.10,293.70 L333.40,294.70 L329.80,294.70 L331.10,293.70 Z" fill="#00A087"/>
<text x="194.7" y="360.9" font-size="8.3" textLength="31" lengthAdjust="spacingAndGlyphs" fill="#2b2b2b">Methods</text>
<line x1="231.30" y1="357.80" x2="240.60" y2="357.80" stroke="#E64B35" stroke-width="1.0"/>
<circle cx="235.95" cy="357.8" r="1.0" fill="#E64B35"/>
<text x="244.7" y="360.4" font-size="6.8" textLength="29.3" lengthAdjust="spacingAndGlyphs" fill="#2b2b2b">PIC model</text>
<line x1="283.20" y1="357.80" x2="291.10" y2="357.80" stroke="#4DBBD5" stroke-width="1.0"/>
<circle cx="287.15" cy="357.8" r="1.0" fill="#4DBBD5"/>
<text x="293.5" y="360.4" font-size="6.8" textLength="19" lengthAdjust="spacingAndGlyphs" fill="#2b2b2b">Seurat</text>
<line x1="320.70" y1="357.80" x2="330.10" y2="357.80" stroke="#00A087" stroke-width="1.0"/>
<circle cx="325.40" cy="357.8" r="1.0" fill="#00A087"/>
<text x="333.9" y="360.4" font-size="6.8" textLength="18.2" lengthAdjust="spacingAndGlyphs" fill="#2b2b2b">ArchR</text>
<text x="359.6" y="203.5" font-size="12.2" font-weight="bold" fill="#000" stroke="#000" stroke-width="0.45" textLength="7.8" lengthAdjust="spacingAndGlyphs">g</text>
<text x="405.4" y="205.1" font-size="9.5" textLength="67.8" lengthAdjust="spacingAndGlyphs" fill="#2b2b2b">PBMC-10k data</text>
<rect x="395.50" y="209.50" width="86.00" height="136.00" fill="none" stroke="#a5a5a5" stroke-width="1"/>
<line x1="393.30" y1="340.10" x2="395.50" y2="340.10" stroke="#777" stroke-width="1"/>
<text x="390.5" y="343.024" font-size="8.6" text-anchor="end" textLength="4.54" lengthAdjust="spacingAndGlyphs" fill="#2b2b2b">0</text>
<line x1="393.30" y1="305.70" x2="395.50" y2="305.70" stroke="#777" stroke-width="1"/>
<text x="390.5" y="308.624" font-size="8.6" text-anchor="end" textLength="15.9" lengthAdjust="spacingAndGlyphs" fill="#2b2b2b">0.25</text>
<line x1="393.30" y1="271.30" x2="395.50" y2="271.30" stroke="#777" stroke-width="1"/>
<text x="390.5" y="274.224" font-size="8.6" text-anchor="end" textLength="15.9" lengthAdjust="spacingAndGlyphs" fill="#2b2b2b">0.50</text>
<line x1="393.30" y1="236.90" x2="395.50" y2="236.90" stroke="#777" stroke-width="1"/>
<text x="390.5" y="239.82400000000004" font-size="8.6" text-anchor="end" textLength="15.9" lengthAdjust="spacingAndGlyphs" fill="#2b2b2b">0.75</text>
<rect x="399.80" y="216.26" width="8.30" height="123.84" fill="#E64B35" stroke="#1a1a1a" stroke-width="0.8"/>
<rect x="408.10" y="221.76" width="8.30" height="118.34" fill="#4DBBD5" stroke="#1a1a1a" stroke-width="0.8"/>
<rect x="416.40" y="230.02" width="8.30" height="110.08" fill="#00A087" stroke="#1a1a1a" stroke-width="0.8"/>
<rect x="427.20" y="248.32" width="8.30" height="91.78" fill="#E64B35" stroke="#1a1a1a" stroke-width="0.8"/>
<rect x="435.50" y="254.10" width="8.30" height="86.00" fill="#4DBBD5" stroke="#1a1a1a" stroke-width="0.8"/>
<rect x="443.80" y="281.21" width="8.30" height="58.89" fill="#00A087" stroke="#1a1a1a" stroke-width="0.8"/>
<rect x="453.60" y="243.23" width="8.30" height="96.87" fill="#E64B35" stroke="#1a1a1a" stroke-width="0.8"/>
<rect x="461.90" y="285.06" width="8.30" height="55.04" fill="#4DBBD5" stroke="#1a1a1a" stroke-width="0.8"/>
<rect x="470.20" y="304.74" width="8.30" height="35.36" fill="#00A087" stroke="#1a1a1a" stroke-width="0.8"/>
<line x1="412.30" y1="345.40" x2="412.30" y2="347.60" stroke="#777" stroke-width="1"/>
<line x1="439.60" y1="345.40" x2="439.60" y2="347.60" stroke="#777" stroke-width="1"/>
<line x1="466.00" y1="345.40" x2="466.00" y2="347.60" stroke="#777" stroke-width="1"/>
<text x="396.6" y="357.9" font-size="8.2" textLength="30.6" lengthAdjust="spacingAndGlyphs" fill="#2b2b2b">Full data</text>
<text x="431.6" y="357.9" font-size="8.2" textLength="14.6" lengthAdjust="spacingAndGlyphs" fill="#2b2b2b">500</text>
<text x="449.6" y="357.9" font-size="8.2" textLength="38.0" lengthAdjust="spacingAndGlyphs" fill="#2b2b2b">500_unbal</text>
<text x="421.9" y="372.7" font-size="9.6" textLength="34.5" lengthAdjust="spacingAndGlyphs" fill="#2b2b2b">Settings</text>
<text x="0" y="0" font-size="9.0" text-anchor="middle" textLength="31" lengthAdjust="spacingAndGlyphs" fill="#2b2b2b" transform="translate(368.24,275.60) rotate(-90)">Power</text>
<text x="486.8" y="261.3" font-size="8.0" textLength="31.2" lengthAdjust="spacingAndGlyphs" fill="#2b2b2b">Methods</text>
<rect x="486.90" y="265.60" width="10.60" height="11.75" fill="#E64B35" stroke="#1a1a1a" stroke-width="0.8"/>
<text x="501.9" y="274.2" font-size="6.8" textLength="31" lengthAdjust="spacingAndGlyphs" fill="#2b2b2b">PIC model</text>
<rect x="486.90" y="277.25" width="10.60" height="11.75" fill="#4DBBD5" stroke="#1a1a1a" stroke-width="0.8"/>
<text x="501.9" y="285.95" font-size="6.8" textLength="19.5" lengthAdjust="spacingAndGlyphs" fill="#2b2b2b">Seurat</text>
<rect x="486.90" y="288.90" width="10.60" height="11.75" fill="#00A087" stroke="#1a1a1a" stroke-width="0.8"/>
<text x="501.9" y="297.7" font-size="6.8" textLength="18.5" lengthAdjust="spacingAndGlyphs" fill="#2b2b2b">ArchR</text>
<text x="540.9" y="204.0" font-size="12.2" font-weight="bold" fill="#000" stroke="#000" stroke-width="0.45" textLength="8.8" lengthAdjust="spacingAndGlyphs">h</text>
<text x="617.1" y="205.1" font-size="9.5" textLength="68.1" lengthAdjust="spacingAndGlyphs" fill="#2b2b2b">PBMC-10k data</text>
<rect x="580.50" y="209.50" width="142.00" height="110.00" fill="none" stroke="#a5a5a5" stroke-width="1"/>
<line x1="578.40" y1="314.20" x2="580.60" y2="314.20" stroke="#777" stroke-width="1"/>
<text x="575.8" y="317.12399999999997" font-size="8.6" text-anchor="end" textLength="4.54" lengthAdjust="spacingAndGlyphs" fill="#2b2b2b">0</text>
<line x1="578.40" y1="287.60" x2="580.60" y2="287.60" stroke="#777" stroke-width="1"/>
<text x="575.8" y="290.52399999999994" font-size="8.6" text-anchor="end" textLength="15.9" lengthAdjust="spacingAndGlyphs" fill="#2b2b2b">0.25</text>
<line x1="578.40" y1="261.00" x2="580.60" y2="261.00" stroke="#777" stroke-width="1"/>
<text x="575.8" y="263.924" font-size="8.6" text-anchor="end" textLength="15.9" lengthAdjust="spacingAndGlyphs" fill="#2b2b2b">0.50</text>
<line x1="578.40" y1="234.40" x2="580.60" y2="234.40" stroke="#777" stroke-width="1"/>
<text x="575.8" y="237.32399999999998" font-size="8.6" text-anchor="end" textLength="15.9" lengthAdjust="spacingAndGlyphs" fill="#2b2b2b">0.75</text>
<rect x="586.90" y="219.18" width="3.90" height="95.02" fill="#E64B35"/>
<rect x="590.80" y="252.59" width="3.90" height="61.61" fill="#4DBBD5"/>
<rect x="594.70" y="280.79" width="3.90" height="33.41" fill="#00A087"/>
<rect x="599.98" y="215.35" width="3.90" height="98.85" fill="#E64B35"/>
<rect x="603.88" y="240.04" width="3.90" height="74.16" fill="#4DBBD5"/>
<rect x="607.78" y="255.36" width="3.90" height="58.84" fill="#00A087"/>
<rect x="613.06" y="215.35" width="3.90" height="98.85" fill="#E64B35"/>
<rect x="616.96" y="228.76" width="3.90" height="85.44" fill="#4DBBD5"/>
<rect x="620.86" y="240.36" width="3.90" height="73.84" fill="#00A087"/>
<rect x="626.14" y="216.63" width="3.90" height="97.57" fill="#E64B35"/>
<rect x="630.04" y="223.02" width="3.90" height="91.18" fill="#4DBBD5"/>
<rect x="633.94" y="231.95" width="3.90" height="82.25" fill="#00A087"/>
<rect x="639.22" y="217.38" width="3.90" height="96.82" fill="#E64B35"/>
<rect x="643.12" y="220.04" width="3.90" height="94.16" fill="#4DBBD5"/>
<rect x="647.02" y="225.99" width="3.90" height="88.21" fill="#00A087"/>
<rect x="652.30" y="216.95" width="3.90" height="97.25" fill="#E64B35"/>
<rect x="656.20" y="216.95" width="3.90" height="97.25" fill="#4DBBD5"/>
<rect x="660.10" y="221.63" width="3.90" height="92.57" fill="#00A087"/>
<rect x="665.38" y="217.59" width="3.90" height="96.61" fill="#E64B35"/>
<rect x="669.28" y="215.99" width="3.90" height="98.21" fill="#4DBBD5"/>
<rect x="673.18" y="219.40" width="3.90" height="94.80" fill="#00A087"/>
<rect x="678.46" y="218.97" width="3.90" height="95.23" fill="#E64B35"/>
<rect x="682.36" y="215.57" width="3.90" height="98.63" fill="#4DBBD5"/>
<rect x="686.26" y="218.44" width="3.90" height="95.76" fill="#00A087"/>
<rect x="691.54" y="219.40" width="3.90" height="94.80" fill="#E64B35"/>
<rect x="695.44" y="215.04" width="3.90" height="99.16" fill="#4DBBD5"/>
<rect x="699.34" y="217.16" width="3.90" height="97.04" fill="#00A087"/>
<rect x="704.62" y="223.97" width="3.90" height="90.23" fill="#E64B35"/>
<rect x="708.52" y="215.99" width="3.90" height="98.21" fill="#4DBBD5"/>
<rect x="712.42" y="218.44" width="3.90" height="95.76" fill="#00A087"/>
<line x1="612.20" y1="319.30" x2="612.20" y2="321.90" stroke="#a5a5a5" stroke-width="1"/>
<text x="612.2" y="327.8" font-size="7.8" text-anchor="middle" textLength="8.24" lengthAdjust="spacingAndGlyphs" fill="#2b2b2b">25</text>
<line x1="645.00" y1="319.30" x2="645.00" y2="321.90" stroke="#a5a5a5" stroke-width="1"/>
<text x="645.0" y="327.8" font-size="7.8" text-anchor="middle" textLength="8.24" lengthAdjust="spacingAndGlyphs" fill="#2b2b2b">50</text>
<line x1="677.60" y1="319.30" x2="677.60" y2="321.90" stroke="#a5a5a5" stroke-width="1"/>
<text x="677.6" y="327.8" font-size="7.8" text-anchor="middle" textLength="8.24" lengthAdjust="spacingAndGlyphs" fill="#2b2b2b">75</text>
<line x1="710.30" y1="319.30" x2="710.30" y2="321.90" stroke="#a5a5a5" stroke-width="1"/>
<text x="710.3" y="327.8" font-size="7.8" text-anchor="middle" textLength="12.36" lengthAdjust="spacingAndGlyphs" fill="#2b2b2b">100</text>
<text x="608.2" y="336.0" font-size="8.0" textLength="93.7" lengthAdjust="spacingAndGlyphs" fill="#2b2b2b">Open probability percentiles</text>
<text x="0" y="0" font-size="9.3" text-anchor="middle" textLength="72.8" lengthAdjust="spacingAndGlyphs" fill="#2b2b2b" transform="translate(549.65,259.20) rotate(-90)">Relative power</text>
<text x="562.3" y="356.4" font-size="8.0" textLength="31" lengthAdjust="spacingAndGlyphs" fill="#2b2b2b">Methods</text>
<rect x="597.80" y="348.90" width="10.70" height="10.90" fill="#E64B35"/>
<text x="611.7" y="356.6" font-size="6.5" textLength="30.4" lengthAdjust="spacingAndGlyphs" fill="#2b2b2b">PIC model</text>
<rect x="649.00" y="348.90" width="10.70" height="10.90" fill="#4DBBD5"/>
<text x="663.4" y="356.6" font-size="6.5" textLength="19" lengthAdjust="spacingAndGlyphs" fill="#2b2b2b">Seurat</text>
<rect x="687.70" y="348.90" width="10.70" height="10.90" fill="#00A087"/>
<text x="702.2" y="356.6" font-size="6.5" textLength="17.2" lengthAdjust="spacingAndGlyphs" fill="#2b2b2b">ArchR</text>
</svg>
</body></html>
